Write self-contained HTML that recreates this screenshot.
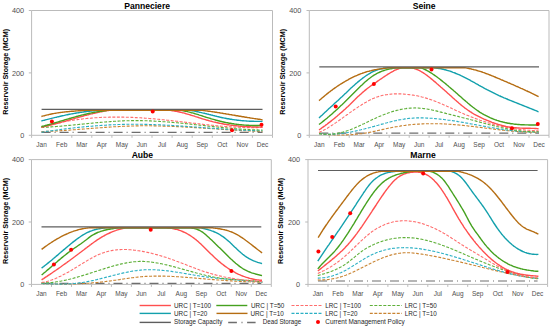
<!DOCTYPE html>
<html><head><meta charset="utf-8"><style>
html,body{margin:0;padding:0;background:#fff;width:550px;height:327px;overflow:hidden;position:relative;font-family:"Liberation Sans",sans-serif;}
</style></head><body>
<svg width="550" height="327" viewBox="0 0 550 327" style="position:absolute;left:0;top:0">
<path d="M31.6,10.5 H272.5 V135.3" fill="none" stroke="#BBBBBB" stroke-width="1"/>
<path d="M31.6,10.5 V135.3 H272.5" fill="none" stroke="#BBBBBB" stroke-width="1"/>
<path d="M28.8,10.5 H31.6" stroke="#BBBBBB" stroke-width="1"/>
<text x="24.2" y="13.3" font-size="7.3" fill="#4F4F4F" text-anchor="end" font-family='"Liberation Sans", sans-serif'>400</text>
<path d="M28.8,72.9 H31.6" stroke="#BBBBBB" stroke-width="1"/>
<text x="24.2" y="75.7" font-size="7.3" fill="#4F4F4F" text-anchor="end" font-family='"Liberation Sans", sans-serif'>200</text>
<path d="M28.8,135.3 H31.6" stroke="#BBBBBB" stroke-width="1"/>
<text x="24.2" y="138.1" font-size="7.3" fill="#4F4F4F" text-anchor="end" font-family='"Liberation Sans", sans-serif'>0</text>
<path d="M31.6,135.3 V137.8" stroke="#BBBBBB" stroke-width="1"/>
<path d="M51.7,135.3 V137.8" stroke="#BBBBBB" stroke-width="1"/>
<path d="M71.8,135.3 V137.8" stroke="#BBBBBB" stroke-width="1"/>
<path d="M91.8,135.3 V137.8" stroke="#BBBBBB" stroke-width="1"/>
<path d="M111.9,135.3 V137.8" stroke="#BBBBBB" stroke-width="1"/>
<path d="M132.0,135.3 V137.8" stroke="#BBBBBB" stroke-width="1"/>
<path d="M152.0,135.3 V137.8" stroke="#BBBBBB" stroke-width="1"/>
<path d="M172.1,135.3 V137.8" stroke="#BBBBBB" stroke-width="1"/>
<path d="M192.2,135.3 V137.8" stroke="#BBBBBB" stroke-width="1"/>
<path d="M212.3,135.3 V137.8" stroke="#BBBBBB" stroke-width="1"/>
<path d="M232.3,135.3 V137.8" stroke="#BBBBBB" stroke-width="1"/>
<path d="M252.4,135.3 V137.8" stroke="#BBBBBB" stroke-width="1"/>
<path d="M272.5,135.3 V137.8" stroke="#BBBBBB" stroke-width="1"/>
<text x="41.6" y="147.0" font-size="6.5" fill="#4F4F4F" text-anchor="middle" font-family='"Liberation Sans", sans-serif'>Jan</text>
<text x="61.7" y="147.0" font-size="6.5" fill="#4F4F4F" text-anchor="middle" font-family='"Liberation Sans", sans-serif'>Feb</text>
<text x="81.8" y="147.0" font-size="6.5" fill="#4F4F4F" text-anchor="middle" font-family='"Liberation Sans", sans-serif'>Mar</text>
<text x="101.9" y="147.0" font-size="6.5" fill="#4F4F4F" text-anchor="middle" font-family='"Liberation Sans", sans-serif'>Apr</text>
<text x="121.9" y="147.0" font-size="6.5" fill="#4F4F4F" text-anchor="middle" font-family='"Liberation Sans", sans-serif'>May</text>
<text x="142.0" y="147.0" font-size="6.5" fill="#4F4F4F" text-anchor="middle" font-family='"Liberation Sans", sans-serif'>Jun</text>
<text x="162.1" y="147.0" font-size="6.5" fill="#4F4F4F" text-anchor="middle" font-family='"Liberation Sans", sans-serif'>Jul</text>
<text x="182.2" y="147.0" font-size="6.5" fill="#4F4F4F" text-anchor="middle" font-family='"Liberation Sans", sans-serif'>Aug</text>
<text x="202.2" y="147.0" font-size="6.5" fill="#4F4F4F" text-anchor="middle" font-family='"Liberation Sans", sans-serif'>Sep</text>
<text x="222.3" y="147.0" font-size="6.5" fill="#4F4F4F" text-anchor="middle" font-family='"Liberation Sans", sans-serif'>Oct</text>
<text x="242.4" y="147.0" font-size="6.5" fill="#4F4F4F" text-anchor="middle" font-family='"Liberation Sans", sans-serif'>Nov</text>
<text x="262.5" y="147.0" font-size="6.5" fill="#4F4F4F" text-anchor="middle" font-family='"Liberation Sans", sans-serif'>Dec</text>
<text x="147.1" y="8.5" font-size="8.6" font-weight="bold" fill="#000" text-anchor="middle" font-family='"Liberation Sans", sans-serif'>Panneciere</text>
<text x="0" y="0" transform="translate(7.5,71.8) rotate(-90)" font-size="6.80" font-weight="bold" fill="#000" text-anchor="middle" font-family='"Liberation Sans", sans-serif' textLength="86.0" lengthAdjust="spacingAndGlyphs">Reservoir Storage (MCM)</text>
<path d="M41.6,132.4 H262.5" stroke="#6E6E6E" stroke-width="1.2" stroke-dasharray="9,4,1,4" fill="none"/>
<path d="M41.4,131.6 L42.4,131.6 L43.4,131.5 L44.4,131.5 L45.4,131.5 L46.4,131.4 L47.4,131.4 L48.4,131.3 L49.4,131.3 L50.4,131.3 L51.4,131.2 L52.4,131.2 L53.4,131.1 L54.4,131.0 L55.4,131.0 L56.4,130.9 L57.4,130.9 L58.4,130.8 L59.4,130.8 L60.4,130.7 L61.4,130.6 L62.4,130.6 L63.4,130.5 L64.4,130.4 L65.4,130.4 L66.4,130.3 L67.4,130.2 L68.4,130.2 L69.4,130.1 L70.4,130.0 L71.4,130.0 L72.4,129.9 L73.4,129.8 L74.4,129.7 L75.4,129.7 L76.4,129.6 L77.4,129.5 L78.4,129.4 L79.4,129.3 L80.4,129.3 L81.4,129.2 L82.4,129.1 L83.4,129.0 L84.4,129.0 L85.4,128.9 L86.4,128.8 L87.4,128.7 L88.4,128.6 L89.4,128.6 L90.4,128.5 L91.4,128.4 L92.4,128.3 L93.4,128.3 L94.4,128.2 L95.4,128.1 L96.4,128.0 L97.4,128.0 L98.4,127.9 L99.4,127.8 L100.4,127.7 L101.4,127.7 L102.4,127.6 L103.4,127.5 L104.4,127.4 L105.4,127.4 L106.4,127.3 L107.4,127.2 L108.4,127.2 L109.4,127.1 L110.4,127.0 L111.4,127.0 L112.4,126.9 L113.4,126.8 L114.4,126.8 L115.4,126.7 L116.4,126.7 L117.4,126.6 L118.4,126.6 L119.4,126.5 L120.4,126.5 L121.4,126.4 L122.4,126.4 L123.4,126.3 L124.4,126.3 L125.4,126.2 L126.4,126.2 L127.4,126.1 L128.4,126.1 L129.4,126.1 L130.4,126.0 L131.4,126.0 L132.4,126.0 L133.4,126.0 L134.4,125.9 L135.4,125.9 L136.4,125.9 L137.4,125.9 L138.4,125.9 L139.4,125.8 L140.4,125.8 L141.4,125.8 L142.4,125.8 L143.4,125.8 L144.4,125.8 L145.4,125.8 L146.4,125.8 L147.4,125.8 L148.4,125.8 L149.4,125.8 L150.4,125.8 L151.4,125.8 L152.4,125.9 L153.4,125.9 L154.4,125.9 L155.4,125.9 L156.4,125.9 L157.4,125.9 L158.4,126.0 L159.4,126.0 L160.4,126.0 L161.4,126.0 L162.4,126.1 L163.4,126.1 L164.4,126.1 L165.4,126.2 L166.4,126.2 L167.4,126.2 L168.4,126.3 L169.4,126.3 L170.4,126.3 L171.4,126.4 L172.4,126.4 L173.4,126.5 L174.4,126.5 L175.4,126.5 L176.4,126.6 L177.4,126.6 L178.4,126.7 L179.4,126.7 L180.4,126.8 L181.4,126.8 L182.4,126.9 L183.4,126.9 L184.4,127.0 L185.4,127.0 L186.4,127.1 L187.4,127.1 L188.4,127.2 L189.4,127.3 L190.4,127.3 L191.4,127.4 L192.4,127.4 L193.4,127.5 L194.4,127.6 L195.4,127.6 L196.4,127.7 L197.4,127.7 L198.4,127.8 L199.4,127.9 L200.4,127.9 L201.4,128.0 L202.4,128.1 L203.4,128.1 L204.4,128.2 L205.4,128.3 L206.4,128.3 L207.4,128.4 L208.4,128.5 L209.4,128.5 L210.4,128.6 L211.4,128.7 L212.4,128.7 L213.4,128.8 L214.4,128.8 L215.4,128.9 L216.4,129.0 L217.4,129.0 L218.4,129.1 L219.4,129.2 L220.4,129.2 L221.4,129.3 L222.4,129.4 L223.4,129.4 L224.4,129.5 L225.4,129.6 L226.4,129.6 L227.4,129.7 L228.4,129.8 L229.4,129.8 L230.4,129.9 L231.4,130.0 L232.4,130.0 L233.4,130.1 L234.4,130.1 L235.4,130.2 L236.4,130.3 L237.4,130.3 L238.4,130.4 L239.4,130.4 L240.4,130.5 L241.4,130.6 L242.4,130.6 L243.4,130.7 L244.4,130.7 L245.4,130.8 L246.4,130.8 L247.4,130.9 L248.4,130.9 L249.4,131.0 L250.4,131.0 L251.4,131.1 L252.4,131.1 L253.4,131.2 L254.4,131.2 L255.4,131.3 L256.4,131.3 L257.4,131.4 L258.4,131.4 L259.4,131.4 L260.4,131.5 L261.4,131.5 L262.4,131.6 L262.5,131.6" stroke="#C98432" stroke-width="1.1" stroke-dasharray="3,1.5" fill="none"/>
<path d="M41.4,132.2 L42.4,132.0 L43.4,131.9 L44.4,131.7 L45.4,131.6 L46.4,131.4 L47.4,131.3 L48.4,131.2 L49.4,131.0 L50.4,130.9 L51.4,130.7 L52.4,130.6 L53.4,130.5 L54.4,130.3 L55.4,130.2 L56.4,130.1 L57.4,129.9 L58.4,129.8 L59.4,129.7 L60.4,129.5 L61.4,129.4 L62.4,129.3 L63.4,129.1 L64.4,129.0 L65.4,128.9 L66.4,128.8 L67.4,128.7 L68.4,128.5 L69.4,128.4 L70.4,128.3 L71.4,128.2 L72.4,128.1 L73.4,128.0 L74.4,127.8 L75.4,127.7 L76.4,127.6 L77.4,127.5 L78.4,127.4 L79.4,127.3 L80.4,127.2 L81.4,127.1 L82.4,127.0 L83.4,126.9 L84.4,126.8 L85.4,126.7 L86.4,126.6 L87.4,126.5 L88.4,126.4 L89.4,126.4 L90.4,126.3 L91.4,126.2 L92.4,126.1 L93.4,126.0 L94.4,125.9 L95.4,125.9 L96.4,125.8 L97.4,125.7 L98.4,125.6 L99.4,125.6 L100.4,125.5 L101.4,125.4 L102.4,125.4 L103.4,125.3 L104.4,125.2 L105.4,125.2 L106.4,125.1 L107.4,125.1 L108.4,125.0 L109.4,124.9 L110.4,124.9 L111.4,124.8 L112.4,124.8 L113.4,124.7 L114.4,124.7 L115.4,124.7 L116.4,124.6 L117.4,124.6 L118.4,124.5 L119.4,124.5 L120.4,124.5 L121.4,124.5 L122.4,124.4 L123.4,124.4 L124.4,124.4 L125.4,124.4 L126.4,124.3 L127.4,124.3 L128.4,124.3 L129.4,124.3 L130.4,124.3 L131.4,124.3 L132.4,124.3 L133.4,124.3 L134.4,124.3 L135.4,124.3 L136.4,124.3 L137.4,124.3 L138.4,124.3 L139.4,124.3 L140.4,124.3 L141.4,124.3 L142.4,124.3 L143.4,124.3 L144.4,124.4 L145.4,124.4 L146.4,124.4 L147.4,124.4 L148.4,124.4 L149.4,124.5 L150.4,124.5 L151.4,124.5 L152.4,124.6 L153.4,124.6 L154.4,124.6 L155.4,124.7 L156.4,124.7 L157.4,124.7 L158.4,124.8 L159.4,124.8 L160.4,124.9 L161.4,124.9 L162.4,125.0 L163.4,125.0 L164.4,125.1 L165.4,125.1 L166.4,125.2 L167.4,125.2 L168.4,125.3 L169.4,125.3 L170.4,125.4 L171.4,125.4 L172.4,125.5 L173.4,125.6 L174.4,125.6 L175.4,125.7 L176.4,125.7 L177.4,125.8 L178.4,125.9 L179.4,125.9 L180.4,126.0 L181.4,126.1 L182.4,126.1 L183.4,126.2 L184.4,126.3 L185.4,126.3 L186.4,126.4 L187.4,126.5 L188.4,126.5 L189.4,126.6 L190.4,126.7 L191.4,126.7 L192.4,126.8 L193.4,126.9 L194.4,127.0 L195.4,127.0 L196.4,127.1 L197.4,127.2 L198.4,127.2 L199.4,127.3 L200.4,127.4 L201.4,127.5 L202.4,127.5 L203.4,127.6 L204.4,127.7 L205.4,127.8 L206.4,127.8 L207.4,127.9 L208.4,128.0 L209.4,128.1 L210.4,128.1 L211.4,128.2 L212.4,128.3 L213.4,128.3 L214.4,128.4 L215.4,128.5 L216.4,128.6 L217.4,128.6 L218.4,128.7 L219.4,128.8 L220.4,128.8 L221.4,128.9 L222.4,129.0 L223.4,129.0 L224.4,129.1 L225.4,129.2 L226.4,129.2 L227.4,129.3 L228.4,129.4 L229.4,129.4 L230.4,129.5 L231.4,129.5 L232.4,129.6 L233.4,129.7 L234.4,129.7 L235.4,129.8 L236.4,129.8 L237.4,129.9 L238.4,129.9 L239.4,130.0 L240.4,130.0 L241.4,130.1 L242.4,130.1 L243.4,130.2 L244.4,130.2 L245.4,130.3 L246.4,130.3 L247.4,130.4 L248.4,130.4 L249.4,130.4 L250.4,130.5 L251.4,130.5 L252.4,130.6 L253.4,130.6 L254.4,130.6 L255.4,130.6 L256.4,130.7 L257.4,130.7 L258.4,130.7 L259.4,130.7 L260.4,130.8 L261.4,130.8 L262.4,130.8 L262.5,130.8" stroke="#2BB0C4" stroke-width="1.1" stroke-dasharray="3,1.5" fill="none"/>
<path d="M41.4,127.5 L42.4,127.4 L43.4,127.4 L44.4,127.3 L45.4,127.3 L46.4,127.2 L47.4,127.1 L48.4,127.1 L49.4,127.0 L50.4,126.9 L51.4,126.9 L52.4,126.8 L53.4,126.7 L54.4,126.7 L55.4,126.6 L56.4,126.5 L57.4,126.4 L58.4,126.3 L59.4,126.3 L60.4,126.2 L61.4,126.1 L62.4,126.0 L63.4,125.9 L64.4,125.8 L65.4,125.7 L66.4,125.6 L67.4,125.5 L68.4,125.4 L69.4,125.4 L70.4,125.3 L71.4,125.2 L72.4,125.1 L73.4,125.0 L74.4,124.9 L75.4,124.8 L76.4,124.7 L77.4,124.6 L78.4,124.5 L79.4,124.4 L80.4,124.3 L81.4,124.2 L82.4,124.1 L83.4,124.0 L84.4,123.9 L85.4,123.8 L86.4,123.7 L87.4,123.6 L88.4,123.5 L89.4,123.4 L90.4,123.3 L91.4,123.2 L92.4,123.1 L93.4,123.0 L94.4,122.9 L95.4,122.8 L96.4,122.7 L97.4,122.6 L98.4,122.6 L99.4,122.5 L100.4,122.4 L101.4,122.3 L102.4,122.2 L103.4,122.1 L104.4,122.0 L105.4,122.0 L106.4,121.9 L107.4,121.8 L108.4,121.7 L109.4,121.7 L110.4,121.6 L111.4,121.5 L112.4,121.4 L113.4,121.4 L114.4,121.3 L115.4,121.3 L116.4,121.2 L117.4,121.1 L118.4,121.1 L119.4,121.0 L120.4,121.0 L121.4,120.9 L122.4,120.9 L123.4,120.9 L124.4,120.8 L125.4,120.8 L126.4,120.7 L127.4,120.7 L128.4,120.7 L129.4,120.7 L130.4,120.6 L131.4,120.6 L132.4,120.6 L133.4,120.6 L134.4,120.6 L135.4,120.6 L136.4,120.6 L137.4,120.6 L138.4,120.6 L139.4,120.6 L140.4,120.6 L141.4,120.6 L142.4,120.7 L143.4,120.7 L144.4,120.7 L145.4,120.7 L146.4,120.8 L147.4,120.8 L148.4,120.8 L149.4,120.9 L150.4,120.9 L151.4,121.0 L152.4,121.0 L153.4,121.1 L154.4,121.1 L155.4,121.2 L156.4,121.2 L157.4,121.3 L158.4,121.3 L159.4,121.4 L160.4,121.5 L161.4,121.5 L162.4,121.6 L163.4,121.7 L164.4,121.7 L165.4,121.8 L166.4,121.9 L167.4,122.0 L168.4,122.0 L169.4,122.1 L170.4,122.2 L171.4,122.3 L172.4,122.4 L173.4,122.5 L174.4,122.6 L175.4,122.7 L176.4,122.7 L177.4,122.8 L178.4,122.9 L179.4,123.0 L180.4,123.1 L181.4,123.2 L182.4,123.3 L183.4,123.4 L184.4,123.5 L185.4,123.6 L186.4,123.7 L187.4,123.8 L188.4,123.9 L189.4,124.0 L190.4,124.1 L191.4,124.2 L192.4,124.4 L193.4,124.5 L194.4,124.6 L195.4,124.7 L196.4,124.8 L197.4,124.9 L198.4,125.0 L199.4,125.1 L200.4,125.2 L201.4,125.3 L202.4,125.4 L203.4,125.5 L204.4,125.6 L205.4,125.8 L206.4,125.9 L207.4,126.0 L208.4,126.1 L209.4,126.2 L210.4,126.3 L211.4,126.4 L212.4,126.5 L213.4,126.6 L214.4,126.7 L215.4,126.8 L216.4,126.9 L217.4,127.0 L218.4,127.1 L219.4,127.2 L220.4,127.3 L221.4,127.4 L222.4,127.5 L223.4,127.6 L224.4,127.7 L225.4,127.8 L226.4,127.9 L227.4,128.0 L228.4,128.1 L229.4,128.2 L230.4,128.3 L231.4,128.4 L232.4,128.4 L233.4,128.5 L234.4,128.6 L235.4,128.7 L236.4,128.8 L237.4,128.8 L238.4,128.9 L239.4,129.0 L240.4,129.1 L241.4,129.1 L242.4,129.2 L243.4,129.3 L244.4,129.3 L245.4,129.4 L246.4,129.5 L247.4,129.5 L248.4,129.6 L249.4,129.6 L250.4,129.7 L251.4,129.7 L252.4,129.8 L253.4,129.8 L254.4,129.8 L255.4,129.9 L256.4,129.9 L257.4,129.9 L258.4,130.0 L259.4,130.0 L260.4,130.0 L261.4,130.0 L262.4,130.1 L262.5,130.1" stroke="#5FB03A" stroke-width="1.1" stroke-dasharray="3,1.5" fill="none"/>
<path d="M41.4,127.4 L42.4,127.1 L43.4,126.8 L44.4,126.5 L45.4,126.3 L46.4,126.0 L47.4,125.7 L48.4,125.4 L49.4,125.2 L50.4,124.9 L51.4,124.6 L52.4,124.4 L53.4,124.1 L54.4,123.9 L55.4,123.7 L56.4,123.4 L57.4,123.2 L58.4,123.0 L59.4,122.8 L60.4,122.6 L61.4,122.3 L62.4,122.1 L63.4,121.9 L64.4,121.7 L65.4,121.5 L66.4,121.4 L67.4,121.2 L68.4,121.0 L69.4,120.8 L70.4,120.7 L71.4,120.5 L72.4,120.3 L73.4,120.2 L74.4,120.0 L75.4,119.9 L76.4,119.7 L77.4,119.6 L78.4,119.5 L79.4,119.3 L80.4,119.2 L81.4,119.1 L82.4,119.0 L83.4,118.8 L84.4,118.7 L85.4,118.6 L86.4,118.5 L87.4,118.4 L88.4,118.3 L89.4,118.2 L90.4,118.2 L91.4,118.1 L92.4,118.0 L93.4,117.9 L94.4,117.8 L95.4,117.8 L96.4,117.7 L97.4,117.6 L98.4,117.6 L99.4,117.5 L100.4,117.5 L101.4,117.4 L102.4,117.4 L103.4,117.3 L104.4,117.3 L105.4,117.3 L106.4,117.2 L107.4,117.2 L108.4,117.2 L109.4,117.1 L110.4,117.1 L111.4,117.1 L112.4,117.1 L113.4,117.1 L114.4,117.1 L115.4,117.1 L116.4,117.1 L117.4,117.1 L118.4,117.1 L119.4,117.1 L120.4,117.1 L121.4,117.1 L122.4,117.1 L123.4,117.1 L124.4,117.2 L125.4,117.2 L126.4,117.2 L127.4,117.2 L128.4,117.3 L129.4,117.3 L130.4,117.3 L131.4,117.4 L132.4,117.4 L133.4,117.5 L134.4,117.5 L135.4,117.6 L136.4,117.6 L137.4,117.7 L138.4,117.7 L139.4,117.8 L140.4,117.8 L141.4,117.9 L142.4,118.0 L143.4,118.0 L144.4,118.1 L145.4,118.2 L146.4,118.2 L147.4,118.3 L148.4,118.4 L149.4,118.5 L150.4,118.6 L151.4,118.6 L152.4,118.7 L153.4,118.8 L154.4,118.9 L155.4,119.0 L156.4,119.1 L157.4,119.2 L158.4,119.3 L159.4,119.4 L160.4,119.5 L161.4,119.6 L162.4,119.7 L163.4,119.8 L164.4,119.9 L165.4,120.0 L166.4,120.1 L167.4,120.2 L168.4,120.3 L169.4,120.4 L170.4,120.5 L171.4,120.6 L172.4,120.7 L173.4,120.9 L174.4,121.0 L175.4,121.1 L176.4,121.2 L177.4,121.3 L178.4,121.4 L179.4,121.5 L180.4,121.7 L181.4,121.8 L182.4,121.9 L183.4,122.0 L184.4,122.1 L185.4,122.3 L186.4,122.4 L187.4,122.5 L188.4,122.6 L189.4,122.7 L190.4,122.9 L191.4,123.0 L192.4,123.1 L193.4,123.2 L194.4,123.3 L195.4,123.4 L196.4,123.6 L197.4,123.7 L198.4,123.8 L199.4,123.9 L200.4,124.0 L201.4,124.1 L202.4,124.2 L203.4,124.4 L204.4,124.5 L205.4,124.6 L206.4,124.7 L207.4,124.8 L208.4,124.9 L209.4,125.0 L210.4,125.1 L211.4,125.2 L212.4,125.3 L213.4,125.4 L214.4,125.5 L215.4,125.6 L216.4,125.7 L217.4,125.8 L218.4,125.9 L219.4,126.0 L220.4,126.1 L221.4,126.2 L222.4,126.2 L223.4,126.3 L224.4,126.4 L225.4,126.5 L226.4,126.6 L227.4,126.6 L228.4,126.7 L229.4,126.8 L230.4,126.9 L231.4,126.9 L232.4,127.0 L233.4,127.0 L234.4,127.1 L235.4,127.2 L236.4,127.2 L237.4,127.3 L238.4,127.3 L239.4,127.3 L240.4,127.4 L241.4,127.4 L242.4,127.5 L243.4,127.5 L244.4,127.5 L245.4,127.5 L246.4,127.6 L247.4,127.6 L248.4,127.6 L249.4,127.6 L250.4,127.6 L251.4,127.6 L252.4,127.6 L253.4,127.6 L254.4,127.6 L255.4,127.6 L256.4,127.6 L257.4,127.6 L258.4,127.5 L259.4,127.5 L260.4,127.5 L261.4,127.4 L262.4,127.4 L262.5,127.4" stroke="#FF6E6E" stroke-width="1.1" stroke-dasharray="3,1.5" fill="none"/>
<path d="M41.4,127.0 L42.4,126.8 L43.4,126.6 L44.4,126.4 L45.4,126.2 L46.4,126.0 L47.4,125.7 L48.4,125.5 L49.4,125.3 L50.4,125.0 L51.4,124.8 L52.4,124.5 L53.4,124.3 L54.4,124.0 L55.4,123.8 L56.4,123.5 L57.4,123.3 L58.4,123.0 L59.4,122.7 L60.4,122.5 L61.4,122.2 L62.4,121.9 L63.4,121.6 L64.4,121.4 L65.4,121.1 L66.4,120.8 L67.4,120.5 L68.4,120.2 L69.4,119.9 L70.4,119.6 L71.4,119.4 L72.4,119.1 L73.4,118.8 L74.4,118.5 L75.4,118.2 L76.4,117.9 L77.4,117.7 L78.4,117.4 L79.4,117.1 L80.4,116.8 L81.4,116.5 L82.4,116.3 L83.4,116.0 L84.4,115.7 L85.4,115.4 L86.4,115.2 L87.4,114.9 L88.4,114.7 L89.4,114.4 L90.4,114.1 L91.4,113.9 L92.4,113.7 L93.4,113.4 L94.4,113.2 L95.4,113.0 L96.4,112.7 L97.4,112.5 L98.4,112.3 L99.4,112.1 L100.4,111.9 L101.4,111.7 L102.4,111.5 L103.4,111.3 L104.4,111.1 L105.4,110.9 L106.4,110.8 L107.4,110.6 L108.4,110.5 L109.4,110.3 L110.4,110.3 L111.4,110.3 L112.4,110.3 L113.4,110.3 L114.4,110.3 L115.4,110.3 L116.4,110.3 L117.4,110.3 L118.4,110.3 L119.4,110.3 L120.4,110.3 L121.4,110.3 L122.4,110.3 L123.4,110.3 L124.4,110.3 L125.4,110.3 L126.4,110.3 L127.4,110.3 L128.4,110.3 L129.4,110.3 L130.4,110.3 L131.4,110.3 L132.4,110.3 L133.4,110.3 L134.4,110.3 L135.4,110.3 L136.4,110.3 L137.4,110.3 L138.4,110.3 L139.4,110.3 L140.4,110.3 L141.4,110.3 L142.4,110.3 L143.4,110.3 L144.4,110.3 L145.4,110.3 L146.4,110.3 L147.4,110.3 L148.4,110.3 L149.4,110.3 L150.4,110.3 L151.4,110.3 L152.4,110.3 L153.4,110.3 L154.4,110.3 L155.4,110.3 L156.4,110.3 L157.4,110.3 L158.4,110.3 L159.4,110.3 L160.4,110.3 L161.4,110.3 L162.4,110.3 L163.4,110.3 L164.4,110.3 L165.4,110.3 L166.4,110.3 L167.4,110.3 L168.4,110.3 L169.4,110.3 L170.4,110.4 L171.4,110.5 L172.4,110.7 L173.4,110.8 L174.4,111.0 L175.4,111.2 L176.4,111.4 L177.4,111.5 L178.4,111.8 L179.4,112.0 L180.4,112.2 L181.4,112.4 L182.4,112.7 L183.4,112.9 L184.4,113.2 L185.4,113.5 L186.4,113.8 L187.4,114.1 L188.4,114.4 L189.4,114.7 L190.4,115.0 L191.4,115.3 L192.4,115.6 L193.4,115.9 L194.4,116.2 L195.4,116.6 L196.4,116.9 L197.4,117.2 L198.4,117.5 L199.4,117.8 L200.4,118.1 L201.4,118.5 L202.4,118.8 L203.4,119.1 L204.4,119.4 L205.4,119.7 L206.4,120.0 L207.4,120.2 L208.4,120.5 L209.4,120.8 L210.4,121.1 L211.4,121.3 L212.4,121.6 L213.4,121.9 L214.4,122.1 L215.4,122.3 L216.4,122.6 L217.4,122.8 L218.4,123.0 L219.4,123.2 L220.4,123.4 L221.4,123.6 L222.4,123.8 L223.4,124.0 L224.4,124.2 L225.4,124.3 L226.4,124.5 L227.4,124.7 L228.4,124.8 L229.4,124.9 L230.4,125.1 L231.4,125.2 L232.4,125.4 L233.4,125.5 L234.4,125.6 L235.4,125.7 L236.4,125.8 L237.4,125.9 L238.4,126.0 L239.4,126.1 L240.4,126.2 L241.4,126.3 L242.4,126.3 L243.4,126.4 L244.4,126.5 L245.4,126.6 L246.4,126.6 L247.4,126.7 L248.4,126.7 L249.4,126.8 L250.4,126.8 L251.4,126.9 L252.4,126.9 L253.4,126.9 L254.4,127.0 L255.4,127.0 L256.4,127.0 L257.4,127.0 L258.4,127.1 L259.4,127.1 L260.4,127.1 L261.4,127.1 L262.4,127.1 L262.5,127.1" stroke="#FF4F4F" stroke-width="1.4" fill="none"/>
<path d="M41.4,126.6 L42.4,126.3 L43.4,126.1 L44.4,125.8 L45.4,125.5 L46.4,125.3 L47.4,125.0 L48.4,124.7 L49.4,124.5 L50.4,124.2 L51.4,123.9 L52.4,123.6 L53.4,123.3 L54.4,123.0 L55.4,122.7 L56.4,122.4 L57.4,122.1 L58.4,121.8 L59.4,121.5 L60.4,121.2 L61.4,120.9 L62.4,120.6 L63.4,120.3 L64.4,120.0 L65.4,119.7 L66.4,119.4 L67.4,119.1 L68.4,118.8 L69.4,118.5 L70.4,118.3 L71.4,118.0 L72.4,117.7 L73.4,117.4 L74.4,117.1 L75.4,116.8 L76.4,116.5 L77.4,116.3 L78.4,116.0 L79.4,115.7 L80.4,115.5 L81.4,115.2 L82.4,114.9 L83.4,114.7 L84.4,114.4 L85.4,114.2 L86.4,114.0 L87.4,113.7 L88.4,113.5 L89.4,113.3 L90.4,113.1 L91.4,112.9 L92.4,112.7 L93.4,112.5 L94.4,112.3 L95.4,112.1 L96.4,111.9 L97.4,111.8 L98.4,111.6 L99.4,111.5 L100.4,111.3 L101.4,111.2 L102.4,111.0 L103.4,110.9 L104.4,110.8 L105.4,110.7 L106.4,110.5 L107.4,110.4 L108.4,110.3 L109.4,110.3 L110.4,110.3 L111.4,110.3 L112.4,110.3 L113.4,110.3 L114.4,110.3 L115.4,110.3 L116.4,110.3 L117.4,110.3 L118.4,110.3 L119.4,110.3 L120.4,110.3 L121.4,110.3 L122.4,110.3 L123.4,110.3 L124.4,110.3 L125.4,110.3 L126.4,110.3 L127.4,110.3 L128.4,110.3 L129.4,110.3 L130.4,110.3 L131.4,110.3 L132.4,110.3 L133.4,110.3 L134.4,110.3 L135.4,110.3 L136.4,110.3 L137.4,110.3 L138.4,110.3 L139.4,110.3 L140.4,110.3 L141.4,110.3 L142.4,110.3 L143.4,110.3 L144.4,110.3 L145.4,110.3 L146.4,110.3 L147.4,110.3 L148.4,110.3 L149.4,110.3 L150.4,110.3 L151.4,110.3 L152.4,110.3 L153.4,110.3 L154.4,110.3 L155.4,110.3 L156.4,110.3 L157.4,110.3 L158.4,110.3 L159.4,110.3 L160.4,110.3 L161.4,110.3 L162.4,110.3 L163.4,110.3 L164.4,110.3 L165.4,110.3 L166.4,110.3 L167.4,110.3 L168.4,110.3 L169.4,110.3 L170.4,110.3 L171.4,110.3 L172.4,110.3 L173.4,110.3 L174.4,110.3 L175.4,110.3 L176.4,110.3 L177.4,110.3 L178.4,110.3 L179.4,110.3 L180.4,110.3 L181.4,110.4 L182.4,110.6 L183.4,110.8 L184.4,111.0 L185.4,111.2 L186.4,111.4 L187.4,111.6 L188.4,111.9 L189.4,112.1 L190.4,112.4 L191.4,112.7 L192.4,112.9 L193.4,113.2 L194.4,113.5 L195.4,113.8 L196.4,114.1 L197.4,114.4 L198.4,114.7 L199.4,115.1 L200.4,115.4 L201.4,115.7 L202.4,116.0 L203.4,116.3 L204.4,116.7 L205.4,117.0 L206.4,117.3 L207.4,117.6 L208.4,117.9 L209.4,118.2 L210.4,118.5 L211.4,118.9 L212.4,119.1 L213.4,119.4 L214.4,119.7 L215.4,120.0 L216.4,120.3 L217.4,120.5 L218.4,120.8 L219.4,121.0 L220.4,121.3 L221.4,121.5 L222.4,121.8 L223.4,122.0 L224.4,122.2 L225.4,122.4 L226.4,122.6 L227.4,122.8 L228.4,123.0 L229.4,123.2 L230.4,123.3 L231.4,123.5 L232.4,123.7 L233.4,123.8 L234.4,124.0 L235.4,124.1 L236.4,124.2 L237.4,124.4 L238.4,124.5 L239.4,124.6 L240.4,124.7 L241.4,124.8 L242.4,124.9 L243.4,125.0 L244.4,125.1 L245.4,125.1 L246.4,125.2 L247.4,125.3 L248.4,125.3 L249.4,125.4 L250.4,125.4 L251.4,125.4 L252.4,125.5 L253.4,125.5 L254.4,125.5 L255.4,125.5 L256.4,125.5 L257.4,125.5 L258.4,125.5 L259.4,125.5 L260.4,125.4 L261.4,125.4 L262.4,125.4 L262.5,125.4" stroke="#45A11F" stroke-width="1.4" fill="none"/>
<path d="M41.4,121.0 L42.4,120.7 L43.4,120.4 L44.4,120.2 L45.4,119.9 L46.4,119.6 L47.4,119.4 L48.4,119.1 L49.4,118.9 L50.4,118.6 L51.4,118.4 L52.4,118.1 L53.4,117.9 L54.4,117.6 L55.4,117.4 L56.4,117.2 L57.4,116.9 L58.4,116.7 L59.4,116.5 L60.4,116.2 L61.4,116.0 L62.4,115.8 L63.4,115.6 L64.4,115.4 L65.4,115.1 L66.4,114.9 L67.4,114.7 L68.4,114.5 L69.4,114.3 L70.4,114.1 L71.4,113.9 L72.4,113.8 L73.4,113.6 L74.4,113.4 L75.4,113.2 L76.4,113.0 L77.4,112.9 L78.4,112.7 L79.4,112.6 L80.4,112.4 L81.4,112.3 L82.4,112.1 L83.4,112.0 L84.4,111.8 L85.4,111.7 L86.4,111.6 L87.4,111.4 L88.4,111.3 L89.4,111.2 L90.4,111.1 L91.4,111.0 L92.4,110.9 L93.4,110.8 L94.4,110.7 L95.4,110.6 L96.4,110.5 L97.4,110.5 L98.4,110.4 L99.4,110.3 L100.4,110.3 L101.4,110.3 L102.4,110.3 L103.4,110.3 L104.4,110.3 L105.4,110.3 L106.4,110.3 L107.4,110.3 L108.4,110.3 L109.4,110.3 L110.4,110.3 L111.4,110.3 L112.4,110.3 L113.4,110.3 L114.4,110.3 L115.4,110.3 L116.4,110.3 L117.4,110.3 L118.4,110.3 L119.4,110.3 L120.4,110.3 L121.4,110.3 L122.4,110.3 L123.4,110.3 L124.4,110.3 L125.4,110.3 L126.4,110.3 L127.4,110.3 L128.4,110.3 L129.4,110.3 L130.4,110.3 L131.4,110.3 L132.4,110.3 L133.4,110.3 L134.4,110.3 L135.4,110.3 L136.4,110.3 L137.4,110.3 L138.4,110.3 L139.4,110.3 L140.4,110.3 L141.4,110.3 L142.4,110.3 L143.4,110.3 L144.4,110.3 L145.4,110.3 L146.4,110.3 L147.4,110.3 L148.4,110.3 L149.4,110.3 L150.4,110.3 L151.4,110.3 L152.4,110.3 L153.4,110.3 L154.4,110.3 L155.4,110.3 L156.4,110.3 L157.4,110.3 L158.4,110.3 L159.4,110.3 L160.4,110.3 L161.4,110.3 L162.4,110.3 L163.4,110.3 L164.4,110.3 L165.4,110.3 L166.4,110.3 L167.4,110.3 L168.4,110.3 L169.4,110.3 L170.4,110.3 L171.4,110.3 L172.4,110.3 L173.4,110.3 L174.4,110.3 L175.4,110.3 L176.4,110.3 L177.4,110.3 L178.4,110.3 L179.4,110.3 L180.4,110.3 L181.4,110.3 L182.4,110.3 L183.4,110.3 L184.4,110.3 L185.4,110.3 L186.4,110.3 L187.4,110.3 L188.4,110.3 L189.4,110.3 L190.4,110.4 L191.4,110.5 L192.4,110.7 L193.4,110.9 L194.4,111.1 L195.4,111.3 L196.4,111.5 L197.4,111.7 L198.4,111.9 L199.4,112.2 L200.4,112.4 L201.4,112.6 L202.4,112.9 L203.4,113.1 L204.4,113.3 L205.4,113.6 L206.4,113.8 L207.4,114.1 L208.4,114.3 L209.4,114.6 L210.4,114.8 L211.4,115.1 L212.4,115.3 L213.4,115.6 L214.4,115.8 L215.4,116.1 L216.4,116.3 L217.4,116.6 L218.4,116.8 L219.4,117.0 L220.4,117.3 L221.4,117.5 L222.4,117.7 L223.4,117.9 L224.4,118.1 L225.4,118.3 L226.4,118.5 L227.4,118.7 L228.4,118.8 L229.4,119.0 L230.4,119.2 L231.4,119.3 L232.4,119.5 L233.4,119.6 L234.4,119.8 L235.4,119.9 L236.4,120.0 L237.4,120.2 L238.4,120.3 L239.4,120.4 L240.4,120.5 L241.4,120.6 L242.4,120.7 L243.4,120.8 L244.4,120.9 L245.4,120.9 L246.4,121.0 L247.4,121.1 L248.4,121.1 L249.4,121.2 L250.4,121.2 L251.4,121.3 L252.4,121.3 L253.4,121.3 L254.4,121.4 L255.4,121.4 L256.4,121.4 L257.4,121.4 L258.4,121.4 L259.4,121.4 L260.4,121.4 L261.4,121.4 L262.4,121.3 L262.5,121.3" stroke="#13A0AC" stroke-width="1.4" fill="none"/>
<path d="M41.4,116.5 L42.4,116.2 L43.4,115.9 L44.4,115.7 L45.4,115.4 L46.4,115.1 L47.4,114.9 L48.4,114.7 L49.4,114.4 L50.4,114.2 L51.4,114.0 L52.4,113.8 L53.4,113.6 L54.4,113.4 L55.4,113.3 L56.4,113.1 L57.4,112.9 L58.4,112.8 L59.4,112.6 L60.4,112.5 L61.4,112.4 L62.4,112.2 L63.4,112.1 L64.4,112.0 L65.4,111.9 L66.4,111.8 L67.4,111.7 L68.4,111.6 L69.4,111.5 L70.4,111.4 L71.4,111.3 L72.4,111.2 L73.4,111.2 L74.4,111.1 L75.4,111.0 L76.4,110.9 L77.4,110.9 L78.4,110.8 L79.4,110.7 L80.4,110.7 L81.4,110.6 L82.4,110.5 L83.4,110.5 L84.4,110.4 L85.4,110.4 L86.4,110.3 L87.4,110.3 L88.4,110.3 L89.4,110.3 L90.4,110.3 L91.4,110.3 L92.4,110.3 L93.4,110.3 L94.4,110.3 L95.4,110.3 L96.4,110.3 L97.4,110.3 L98.4,110.3 L99.4,110.3 L100.4,110.3 L101.4,110.3 L102.4,110.3 L103.4,110.3 L104.4,110.3 L105.4,110.3 L106.4,110.3 L107.4,110.3 L108.4,110.3 L109.4,110.3 L110.4,110.3 L111.4,110.3 L112.4,110.3 L113.4,110.3 L114.4,110.3 L115.4,110.3 L116.4,110.3 L117.4,110.3 L118.4,110.3 L119.4,110.3 L120.4,110.3 L121.4,110.3 L122.4,110.3 L123.4,110.3 L124.4,110.3 L125.4,110.3 L126.4,110.3 L127.4,110.3 L128.4,110.3 L129.4,110.3 L130.4,110.3 L131.4,110.3 L132.4,110.3 L133.4,110.3 L134.4,110.3 L135.4,110.3 L136.4,110.3 L137.4,110.3 L138.4,110.3 L139.4,110.3 L140.4,110.3 L141.4,110.3 L142.4,110.3 L143.4,110.3 L144.4,110.3 L145.4,110.3 L146.4,110.3 L147.4,110.3 L148.4,110.3 L149.4,110.3 L150.4,110.3 L151.4,110.3 L152.4,110.3 L153.4,110.3 L154.4,110.3 L155.4,110.3 L156.4,110.3 L157.4,110.3 L158.4,110.3 L159.4,110.3 L160.4,110.3 L161.4,110.3 L162.4,110.3 L163.4,110.3 L164.4,110.3 L165.4,110.3 L166.4,110.3 L167.4,110.3 L168.4,110.3 L169.4,110.3 L170.4,110.3 L171.4,110.3 L172.4,110.3 L173.4,110.3 L174.4,110.3 L175.4,110.3 L176.4,110.3 L177.4,110.3 L178.4,110.3 L179.4,110.3 L180.4,110.3 L181.4,110.3 L182.4,110.3 L183.4,110.3 L184.4,110.3 L185.4,110.3 L186.4,110.3 L187.4,110.3 L188.4,110.3 L189.4,110.3 L190.4,110.3 L191.4,110.3 L192.4,110.3 L193.4,110.3 L194.4,110.3 L195.4,110.3 L196.4,110.3 L197.4,110.3 L198.4,110.3 L199.4,110.3 L200.4,110.3 L201.4,110.3 L202.4,110.4 L203.4,110.5 L204.4,110.6 L205.4,110.8 L206.4,110.9 L207.4,111.0 L208.4,111.2 L209.4,111.3 L210.4,111.4 L211.4,111.6 L212.4,111.7 L213.4,111.9 L214.4,112.0 L215.4,112.2 L216.4,112.3 L217.4,112.5 L218.4,112.6 L219.4,112.8 L220.4,113.0 L221.4,113.1 L222.4,113.3 L223.4,113.5 L224.4,113.6 L225.4,113.8 L226.4,114.0 L227.4,114.1 L228.4,114.3 L229.4,114.5 L230.4,114.6 L231.4,114.8 L232.4,115.0 L233.4,115.1 L234.4,115.3 L235.4,115.5 L236.4,115.7 L237.4,115.8 L238.4,116.0 L239.4,116.2 L240.4,116.3 L241.4,116.5 L242.4,116.7 L243.4,116.8 L244.4,117.0 L245.4,117.2 L246.4,117.3 L247.4,117.5 L248.4,117.6 L249.4,117.8 L250.4,118.0 L251.4,118.1 L252.4,118.3 L253.4,118.4 L254.4,118.6 L255.4,118.7 L256.4,118.9 L257.4,119.0 L258.4,119.2 L259.4,119.3 L260.4,119.4 L261.4,119.6 L262.4,119.7 L262.5,119.7" stroke="#B56D12" stroke-width="1.4" fill="none"/>
<path d="M41.6,109.4 H262.5" stroke="#5E5E5E" stroke-width="1.2" fill="none"/>
<circle cx="51.9" cy="121.5" r="2.0" fill="#FF0000"/>
<circle cx="152.7" cy="111.4" r="2.0" fill="#FF0000"/>
<circle cx="232.0" cy="130.2" r="2.0" fill="#FF0000"/>
<circle cx="261.5" cy="124.8" r="2.0" fill="#FF0000"/>
<path d="M309.3,10.5 H549.0 V135.3" fill="none" stroke="#BBBBBB" stroke-width="1"/>
<path d="M309.3,10.5 V135.3 H549.0" fill="none" stroke="#BBBBBB" stroke-width="1"/>
<path d="M306.5,10.5 H309.3" stroke="#BBBBBB" stroke-width="1"/>
<text x="301.4" y="13.3" font-size="7.3" fill="#4F4F4F" text-anchor="end" font-family='"Liberation Sans", sans-serif'>400</text>
<path d="M306.5,72.9 H309.3" stroke="#BBBBBB" stroke-width="1"/>
<text x="301.4" y="75.7" font-size="7.3" fill="#4F4F4F" text-anchor="end" font-family='"Liberation Sans", sans-serif'>200</text>
<path d="M306.5,135.3 H309.3" stroke="#BBBBBB" stroke-width="1"/>
<text x="301.4" y="138.1" font-size="7.3" fill="#4F4F4F" text-anchor="end" font-family='"Liberation Sans", sans-serif'>0</text>
<path d="M309.3,135.3 V137.8" stroke="#BBBBBB" stroke-width="1"/>
<path d="M329.3,135.3 V137.8" stroke="#BBBBBB" stroke-width="1"/>
<path d="M349.2,135.3 V137.8" stroke="#BBBBBB" stroke-width="1"/>
<path d="M369.2,135.3 V137.8" stroke="#BBBBBB" stroke-width="1"/>
<path d="M389.2,135.3 V137.8" stroke="#BBBBBB" stroke-width="1"/>
<path d="M409.2,135.3 V137.8" stroke="#BBBBBB" stroke-width="1"/>
<path d="M429.1,135.3 V137.8" stroke="#BBBBBB" stroke-width="1"/>
<path d="M449.1,135.3 V137.8" stroke="#BBBBBB" stroke-width="1"/>
<path d="M469.1,135.3 V137.8" stroke="#BBBBBB" stroke-width="1"/>
<path d="M489.1,135.3 V137.8" stroke="#BBBBBB" stroke-width="1"/>
<path d="M509.0,135.3 V137.8" stroke="#BBBBBB" stroke-width="1"/>
<path d="M529.0,135.3 V137.8" stroke="#BBBBBB" stroke-width="1"/>
<path d="M549.0,135.3 V137.8" stroke="#BBBBBB" stroke-width="1"/>
<text x="319.3" y="147.0" font-size="6.5" fill="#4F4F4F" text-anchor="middle" font-family='"Liberation Sans", sans-serif'>Jan</text>
<text x="339.3" y="147.0" font-size="6.5" fill="#4F4F4F" text-anchor="middle" font-family='"Liberation Sans", sans-serif'>Feb</text>
<text x="359.2" y="147.0" font-size="6.5" fill="#4F4F4F" text-anchor="middle" font-family='"Liberation Sans", sans-serif'>Mar</text>
<text x="379.2" y="147.0" font-size="6.5" fill="#4F4F4F" text-anchor="middle" font-family='"Liberation Sans", sans-serif'>Apr</text>
<text x="399.2" y="147.0" font-size="6.5" fill="#4F4F4F" text-anchor="middle" font-family='"Liberation Sans", sans-serif'>May</text>
<text x="419.2" y="147.0" font-size="6.5" fill="#4F4F4F" text-anchor="middle" font-family='"Liberation Sans", sans-serif'>Jun</text>
<text x="439.1" y="147.0" font-size="6.5" fill="#4F4F4F" text-anchor="middle" font-family='"Liberation Sans", sans-serif'>Jul</text>
<text x="459.1" y="147.0" font-size="6.5" fill="#4F4F4F" text-anchor="middle" font-family='"Liberation Sans", sans-serif'>Aug</text>
<text x="479.1" y="147.0" font-size="6.5" fill="#4F4F4F" text-anchor="middle" font-family='"Liberation Sans", sans-serif'>Sep</text>
<text x="499.1" y="147.0" font-size="6.5" fill="#4F4F4F" text-anchor="middle" font-family='"Liberation Sans", sans-serif'>Oct</text>
<text x="519.0" y="147.0" font-size="6.5" fill="#4F4F4F" text-anchor="middle" font-family='"Liberation Sans", sans-serif'>Nov</text>
<text x="539.0" y="147.0" font-size="6.5" fill="#4F4F4F" text-anchor="middle" font-family='"Liberation Sans", sans-serif'>Dec</text>
<text x="424.2" y="8.5" font-size="8.6" font-weight="bold" fill="#000" text-anchor="middle" font-family='"Liberation Sans", sans-serif'>Seine</text>
<text x="0" y="0" transform="translate(284.8,71.8) rotate(-90)" font-size="6.80" font-weight="bold" fill="#000" text-anchor="middle" font-family='"Liberation Sans", sans-serif' textLength="86.0" lengthAdjust="spacingAndGlyphs">Reservoir Storage (MCM)</text>
<path d="M319.3,133.2 H539.0" stroke="#6E6E6E" stroke-width="1.2" stroke-dasharray="9,4,1,4" fill="none"/>
<path d="M319.0,133.6 L320.0,133.7 L321.0,133.8 L322.0,133.9 L323.0,134.0 L324.0,134.1 L325.0,134.2 L326.0,134.3 L327.0,134.4 L328.0,134.5 L329.0,134.6 L330.0,134.6 L331.0,134.7 L332.0,134.7 L333.0,134.8 L334.0,134.8 L335.0,134.9 L336.0,134.9 L337.0,134.9 L338.0,135.0 L339.0,135.0 L340.0,135.0 L341.0,135.0 L342.0,135.0 L343.0,135.0 L344.0,135.0 L345.0,134.9 L346.0,134.9 L347.0,134.9 L348.0,134.8 L349.0,134.8 L350.0,134.7 L351.0,134.7 L352.0,134.6 L353.0,134.5 L354.0,134.5 L355.0,134.4 L356.0,134.3 L357.0,134.2 L358.0,134.1 L359.0,134.0 L360.0,133.8 L361.0,133.7 L362.0,133.6 L363.0,133.4 L364.0,133.3 L365.0,133.1 L366.0,133.0 L367.0,132.8 L368.0,132.6 L369.0,132.4 L370.0,132.3 L371.0,132.1 L372.0,131.9 L373.0,131.6 L374.0,131.4 L375.0,131.2 L376.0,131.0 L377.0,130.8 L378.0,130.5 L379.0,130.3 L380.0,130.1 L381.0,129.8 L382.0,129.6 L383.0,129.4 L384.0,129.2 L385.0,128.9 L386.0,128.7 L387.0,128.5 L388.0,128.3 L389.0,128.1 L390.0,127.9 L391.0,127.7 L392.0,127.5 L393.0,127.3 L394.0,127.1 L395.0,126.9 L396.0,126.7 L397.0,126.6 L398.0,126.4 L399.0,126.2 L400.0,126.1 L401.0,125.9 L402.0,125.8 L403.0,125.6 L404.0,125.5 L405.0,125.4 L406.0,125.2 L407.0,125.1 L408.0,125.0 L409.0,124.9 L410.0,124.8 L411.0,124.7 L412.0,124.6 L413.0,124.5 L414.0,124.4 L415.0,124.3 L416.0,124.3 L417.0,124.2 L418.0,124.1 L419.0,124.1 L420.0,124.0 L421.0,124.0 L422.0,123.9 L423.0,123.9 L424.0,123.8 L425.0,123.8 L426.0,123.8 L427.0,123.7 L428.0,123.7 L429.0,123.7 L430.0,123.7 L431.0,123.7 L432.0,123.7 L433.0,123.7 L434.0,123.7 L435.0,123.7 L436.0,123.7 L437.0,123.7 L438.0,123.7 L439.0,123.8 L440.0,123.8 L441.0,123.8 L442.0,123.9 L443.0,123.9 L444.0,123.9 L445.0,124.0 L446.0,124.0 L447.0,124.1 L448.0,124.2 L449.0,124.2 L450.0,124.3 L451.0,124.4 L452.0,124.4 L453.0,124.5 L454.0,124.6 L455.0,124.7 L456.0,124.8 L457.0,124.8 L458.0,124.9 L459.0,125.0 L460.0,125.1 L461.0,125.2 L462.0,125.3 L463.0,125.4 L464.0,125.5 L465.0,125.6 L466.0,125.7 L467.0,125.8 L468.0,126.0 L469.0,126.1 L470.0,126.2 L471.0,126.3 L472.0,126.4 L473.0,126.5 L474.0,126.7 L475.0,126.8 L476.0,126.9 L477.0,127.0 L478.0,127.2 L479.0,127.3 L480.0,127.4 L481.0,127.5 L482.0,127.6 L483.0,127.8 L484.0,127.9 L485.0,128.0 L486.0,128.2 L487.0,128.3 L488.0,128.4 L489.0,128.5 L490.0,128.7 L491.0,128.8 L492.0,128.9 L493.0,129.0 L494.0,129.1 L495.0,129.3 L496.0,129.4 L497.0,129.5 L498.0,129.6 L499.0,129.7 L500.0,129.9 L501.0,130.0 L502.0,130.1 L503.0,130.2 L504.0,130.3 L505.0,130.4 L506.0,130.5 L507.0,130.6 L508.0,130.7 L509.0,130.8 L510.0,130.9 L511.0,131.0 L512.0,131.1 L513.0,131.2 L514.0,131.3 L515.0,131.3 L516.0,131.4 L517.0,131.5 L518.0,131.6 L519.0,131.6 L520.0,131.7 L521.0,131.8 L522.0,131.8 L523.0,131.9 L524.0,131.9 L525.0,132.0 L526.0,132.0 L527.0,132.1 L528.0,132.1 L529.0,132.1 L530.0,132.2 L531.0,132.2 L532.0,132.2 L533.0,132.2 L534.0,132.2 L535.0,132.2 L536.0,132.2 L537.0,132.2 L538.0,132.2 L538.6,132.2" stroke="#C98432" stroke-width="1.1" stroke-dasharray="3,1.5" fill="none"/>
<path d="M319.0,133.6 L320.0,133.7 L321.0,133.8 L322.0,133.9 L323.0,134.0 L324.0,134.1 L325.0,134.1 L326.0,134.2 L327.0,134.2 L328.0,134.2 L329.0,134.2 L330.0,134.2 L331.0,134.2 L332.0,134.2 L333.0,134.2 L334.0,134.1 L335.0,134.1 L336.0,134.0 L337.0,133.9 L338.0,133.8 L339.0,133.7 L340.0,133.6 L341.0,133.5 L342.0,133.4 L343.0,133.3 L344.0,133.1 L345.0,133.0 L346.0,132.8 L347.0,132.7 L348.0,132.5 L349.0,132.3 L350.0,132.2 L351.0,132.0 L352.0,131.8 L353.0,131.6 L354.0,131.4 L355.0,131.2 L356.0,130.9 L357.0,130.7 L358.0,130.5 L359.0,130.3 L360.0,130.0 L361.0,129.8 L362.0,129.5 L363.0,129.3 L364.0,129.0 L365.0,128.8 L366.0,128.5 L367.0,128.3 L368.0,128.0 L369.0,127.7 L370.0,127.5 L371.0,127.2 L372.0,126.9 L373.0,126.6 L374.0,126.4 L375.0,126.1 L376.0,125.8 L377.0,125.5 L378.0,125.3 L379.0,125.0 L380.0,124.7 L381.0,124.4 L382.0,124.1 L383.0,123.9 L384.0,123.6 L385.0,123.3 L386.0,123.0 L387.0,122.8 L388.0,122.5 L389.0,122.2 L390.0,122.0 L391.0,121.7 L392.0,121.5 L393.0,121.3 L394.0,121.0 L395.0,120.8 L396.0,120.6 L397.0,120.3 L398.0,120.1 L399.0,119.9 L400.0,119.7 L401.0,119.6 L402.0,119.4 L403.0,119.2 L404.0,119.1 L405.0,118.9 L406.0,118.8 L407.0,118.6 L408.0,118.5 L409.0,118.4 L410.0,118.3 L411.0,118.2 L412.0,118.2 L413.0,118.1 L414.0,118.0 L415.0,118.0 L416.0,118.0 L417.0,117.9 L418.0,117.9 L419.0,117.9 L420.0,117.9 L421.0,117.9 L422.0,117.9 L423.0,117.9 L424.0,117.9 L425.0,118.0 L426.0,118.0 L427.0,118.1 L428.0,118.1 L429.0,118.2 L430.0,118.2 L431.0,118.3 L432.0,118.3 L433.0,118.4 L434.0,118.5 L435.0,118.6 L436.0,118.7 L437.0,118.8 L438.0,118.9 L439.0,119.0 L440.0,119.1 L441.0,119.2 L442.0,119.3 L443.0,119.4 L444.0,119.5 L445.0,119.7 L446.0,119.8 L447.0,119.9 L448.0,120.1 L449.0,120.2 L450.0,120.3 L451.0,120.5 L452.0,120.6 L453.0,120.8 L454.0,120.9 L455.0,121.1 L456.0,121.3 L457.0,121.4 L458.0,121.6 L459.0,121.7 L460.0,121.9 L461.0,122.1 L462.0,122.3 L463.0,122.4 L464.0,122.6 L465.0,122.8 L466.0,123.0 L467.0,123.1 L468.0,123.3 L469.0,123.5 L470.0,123.7 L471.0,123.9 L472.0,124.0 L473.0,124.2 L474.0,124.4 L475.0,124.6 L476.0,124.8 L477.0,125.0 L478.0,125.2 L479.0,125.3 L480.0,125.5 L481.0,125.7 L482.0,125.9 L483.0,126.1 L484.0,126.3 L485.0,126.4 L486.0,126.6 L487.0,126.8 L488.0,127.0 L489.0,127.2 L490.0,127.3 L491.0,127.5 L492.0,127.7 L493.0,127.8 L494.0,128.0 L495.0,128.2 L496.0,128.4 L497.0,128.5 L498.0,128.7 L499.0,128.8 L500.0,129.0 L501.0,129.1 L502.0,129.3 L503.0,129.4 L504.0,129.6 L505.0,129.7 L506.0,129.9 L507.0,130.0 L508.0,130.1 L509.0,130.3 L510.0,130.4 L511.0,130.5 L512.0,130.6 L513.0,130.7 L514.0,130.8 L515.0,130.9 L516.0,131.0 L517.0,131.1 L518.0,131.2 L519.0,131.3 L520.0,131.4 L521.0,131.5 L522.0,131.5 L523.0,131.6 L524.0,131.7 L525.0,131.7 L526.0,131.8 L527.0,131.8 L528.0,131.9 L529.0,131.9 L530.0,131.9 L531.0,131.9 L532.0,132.0 L533.0,132.0 L534.0,132.0 L535.0,132.0 L536.0,132.0 L537.0,131.9 L538.0,131.9 L538.6,131.9" stroke="#2BB0C4" stroke-width="1.1" stroke-dasharray="3,1.5" fill="none"/>
<path d="M319.0,133.6 L320.0,133.7 L321.0,133.9 L322.0,134.0 L323.0,134.1 L324.0,134.2 L325.0,134.3 L326.0,134.3 L327.0,134.3 L328.0,134.3 L329.0,134.3 L330.0,134.3 L331.0,134.2 L332.0,134.1 L333.0,134.0 L334.0,133.9 L335.0,133.8 L336.0,133.6 L337.0,133.4 L338.0,133.2 L339.0,133.0 L340.0,132.8 L341.0,132.6 L342.0,132.3 L343.0,132.1 L344.0,131.8 L345.0,131.5 L346.0,131.2 L347.0,130.8 L348.0,130.5 L349.0,130.1 L350.0,129.8 L351.0,129.4 L352.0,129.0 L353.0,128.6 L354.0,128.2 L355.0,127.8 L356.0,127.3 L357.0,126.9 L358.0,126.5 L359.0,126.0 L360.0,125.5 L361.0,125.1 L362.0,124.6 L363.0,124.1 L364.0,123.7 L365.0,123.2 L366.0,122.7 L367.0,122.2 L368.0,121.7 L369.0,121.2 L370.0,120.8 L371.0,120.3 L372.0,119.8 L373.0,119.3 L374.0,118.9 L375.0,118.4 L376.0,117.9 L377.0,117.5 L378.0,117.0 L379.0,116.6 L380.0,116.2 L381.0,115.8 L382.0,115.3 L383.0,114.9 L384.0,114.6 L385.0,114.2 L386.0,113.8 L387.0,113.4 L388.0,113.1 L389.0,112.7 L390.0,112.4 L391.0,112.1 L392.0,111.7 L393.0,111.4 L394.0,111.1 L395.0,110.9 L396.0,110.6 L397.0,110.3 L398.0,110.1 L399.0,109.8 L400.0,109.6 L401.0,109.4 L402.0,109.2 L403.0,109.0 L404.0,108.9 L405.0,108.7 L406.0,108.6 L407.0,108.4 L408.0,108.3 L409.0,108.2 L410.0,108.1 L411.0,108.1 L412.0,108.0 L413.0,108.0 L414.0,108.0 L415.0,107.9 L416.0,108.0 L417.0,108.0 L418.0,108.0 L419.0,108.1 L420.0,108.2 L421.0,108.2 L422.0,108.3 L423.0,108.5 L424.0,108.6 L425.0,108.7 L426.0,108.9 L427.0,109.0 L428.0,109.2 L429.0,109.4 L430.0,109.6 L431.0,109.8 L432.0,110.0 L433.0,110.2 L434.0,110.4 L435.0,110.7 L436.0,110.9 L437.0,111.1 L438.0,111.4 L439.0,111.6 L440.0,111.9 L441.0,112.1 L442.0,112.4 L443.0,112.6 L444.0,112.9 L445.0,113.1 L446.0,113.4 L447.0,113.6 L448.0,113.9 L449.0,114.2 L450.0,114.4 L451.0,114.7 L452.0,114.9 L453.0,115.2 L454.0,115.4 L455.0,115.7 L456.0,115.9 L457.0,116.2 L458.0,116.4 L459.0,116.7 L460.0,117.0 L461.0,117.2 L462.0,117.5 L463.0,117.7 L464.0,118.0 L465.0,118.2 L466.0,118.5 L467.0,118.7 L468.0,119.0 L469.0,119.2 L470.0,119.5 L471.0,119.8 L472.0,120.0 L473.0,120.3 L474.0,120.6 L475.0,120.8 L476.0,121.1 L477.0,121.4 L478.0,121.6 L479.0,121.9 L480.0,122.2 L481.0,122.4 L482.0,122.7 L483.0,123.0 L484.0,123.2 L485.0,123.5 L486.0,123.8 L487.0,124.0 L488.0,124.3 L489.0,124.6 L490.0,124.8 L491.0,125.1 L492.0,125.3 L493.0,125.6 L494.0,125.8 L495.0,126.1 L496.0,126.3 L497.0,126.6 L498.0,126.8 L499.0,127.0 L500.0,127.2 L501.0,127.5 L502.0,127.7 L503.0,127.9 L504.0,128.1 L505.0,128.3 L506.0,128.5 L507.0,128.7 L508.0,128.9 L509.0,129.1 L510.0,129.3 L511.0,129.5 L512.0,129.7 L513.0,129.8 L514.0,130.0 L515.0,130.2 L516.0,130.3 L517.0,130.4 L518.0,130.6 L519.0,130.7 L520.0,130.8 L521.0,130.9 L522.0,131.1 L523.0,131.2 L524.0,131.2 L525.0,131.3 L526.0,131.4 L527.0,131.5 L528.0,131.5 L529.0,131.6 L530.0,131.6 L531.0,131.7 L532.0,131.7 L533.0,131.7 L534.0,131.7 L535.0,131.7 L536.0,131.7 L537.0,131.7 L538.0,131.6 L538.6,131.6" stroke="#5FB03A" stroke-width="1.1" stroke-dasharray="3,1.5" fill="none"/>
<path d="M319.0,132.6 L320.0,132.1 L321.0,131.6 L322.0,131.1 L323.0,130.6 L324.0,130.1 L325.0,129.5 L326.0,128.9 L327.0,128.4 L328.0,127.8 L329.0,127.1 L330.0,126.5 L331.0,125.9 L332.0,125.2 L333.0,124.6 L334.0,123.9 L335.0,123.2 L336.0,122.6 L337.0,121.9 L338.0,121.2 L339.0,120.5 L340.0,119.8 L341.0,119.1 L342.0,118.4 L343.0,117.6 L344.0,116.9 L345.0,116.2 L346.0,115.5 L347.0,114.8 L348.0,114.1 L349.0,113.3 L350.0,112.6 L351.0,111.9 L352.0,111.2 L353.0,110.5 L354.0,109.8 L355.0,109.1 L356.0,108.4 L357.0,107.8 L358.0,107.1 L359.0,106.4 L360.0,105.8 L361.0,105.2 L362.0,104.5 L363.0,103.9 L364.0,103.3 L365.0,102.7 L366.0,102.2 L367.0,101.6 L368.0,101.1 L369.0,100.5 L370.0,100.0 L371.0,99.5 L372.0,99.1 L373.0,98.6 L374.0,98.2 L375.0,97.8 L376.0,97.4 L377.0,97.0 L378.0,96.7 L379.0,96.4 L380.0,96.1 L381.0,95.8 L382.0,95.5 L383.0,95.3 L384.0,95.1 L385.0,94.9 L386.0,94.7 L387.0,94.6 L388.0,94.4 L389.0,94.3 L390.0,94.2 L391.0,94.1 L392.0,94.0 L393.0,94.0 L394.0,93.9 L395.0,93.9 L396.0,93.9 L397.0,93.9 L398.0,93.9 L399.0,93.9 L400.0,93.9 L401.0,93.9 L402.0,94.0 L403.0,94.0 L404.0,94.1 L405.0,94.2 L406.0,94.3 L407.0,94.4 L408.0,94.5 L409.0,94.6 L410.0,94.7 L411.0,94.8 L412.0,95.0 L413.0,95.1 L414.0,95.3 L415.0,95.5 L416.0,95.6 L417.0,95.8 L418.0,96.0 L419.0,96.3 L420.0,96.5 L421.0,96.7 L422.0,97.0 L423.0,97.2 L424.0,97.5 L425.0,97.8 L426.0,98.1 L427.0,98.4 L428.0,98.7 L429.0,99.0 L430.0,99.4 L431.0,99.7 L432.0,100.1 L433.0,100.4 L434.0,100.8 L435.0,101.2 L436.0,101.6 L437.0,102.0 L438.0,102.4 L439.0,102.8 L440.0,103.2 L441.0,103.7 L442.0,104.1 L443.0,104.5 L444.0,104.9 L445.0,105.4 L446.0,105.8 L447.0,106.3 L448.0,106.7 L449.0,107.2 L450.0,107.6 L451.0,108.1 L452.0,108.6 L453.0,109.0 L454.0,109.5 L455.0,109.9 L456.0,110.4 L457.0,110.8 L458.0,111.3 L459.0,111.7 L460.0,112.2 L461.0,112.6 L462.0,113.1 L463.0,113.5 L464.0,113.9 L465.0,114.4 L466.0,114.8 L467.0,115.2 L468.0,115.6 L469.0,116.0 L470.0,116.4 L471.0,116.8 L472.0,117.2 L473.0,117.6 L474.0,118.0 L475.0,118.4 L476.0,118.7 L477.0,119.1 L478.0,119.5 L479.0,119.8 L480.0,120.2 L481.0,120.5 L482.0,120.8 L483.0,121.2 L484.0,121.5 L485.0,121.8 L486.0,122.1 L487.0,122.4 L488.0,122.7 L489.0,123.0 L490.0,123.3 L491.0,123.6 L492.0,123.9 L493.0,124.2 L494.0,124.5 L495.0,124.7 L496.0,125.0 L497.0,125.2 L498.0,125.5 L499.0,125.7 L500.0,126.0 L501.0,126.2 L502.0,126.4 L503.0,126.6 L504.0,126.8 L505.0,127.0 L506.0,127.2 L507.0,127.4 L508.0,127.6 L509.0,127.8 L510.0,128.0 L511.0,128.2 L512.0,128.3 L513.0,128.5 L514.0,128.7 L515.0,128.8 L516.0,129.0 L517.0,129.1 L518.0,129.2 L519.0,129.4 L520.0,129.5 L521.0,129.6 L522.0,129.7 L523.0,129.8 L524.0,129.9 L525.0,130.0 L526.0,130.1 L527.0,130.2 L528.0,130.2 L529.0,130.3 L530.0,130.4 L531.0,130.4 L532.0,130.5 L533.0,130.5 L534.0,130.6 L535.0,130.6 L536.0,130.6 L537.0,130.7 L538.0,130.7 L538.6,130.7" stroke="#FF6E6E" stroke-width="1.1" stroke-dasharray="3,1.5" fill="none"/>
<path d="M319.0,130.0 L320.0,129.3 L321.0,128.6 L322.0,127.8 L323.0,127.1 L324.0,126.4 L325.0,125.7 L326.0,124.9 L327.0,124.2 L328.0,123.4 L329.0,122.6 L330.0,121.9 L331.0,121.1 L332.0,120.3 L333.0,119.5 L334.0,118.7 L335.0,117.9 L336.0,117.0 L337.0,116.2 L338.0,115.3 L339.0,114.5 L340.0,113.6 L341.0,112.7 L342.0,111.9 L343.0,111.0 L344.0,110.1 L345.0,109.2 L346.0,108.2 L347.0,107.3 L348.0,106.4 L349.0,105.4 L350.0,104.5 L351.0,103.5 L352.0,102.5 L353.0,101.5 L354.0,100.5 L355.0,99.6 L356.0,98.6 L357.0,97.6 L358.0,96.6 L359.0,95.7 L360.0,94.8 L361.0,93.9 L362.0,93.0 L363.0,92.1 L364.0,91.3 L365.0,90.4 L366.0,89.6 L367.0,88.8 L368.0,88.0 L369.0,87.3 L370.0,86.5 L371.0,85.8 L372.0,85.1 L373.0,84.4 L374.0,83.6 L375.0,82.9 L376.0,82.3 L377.0,81.6 L378.0,80.9 L379.0,80.2 L380.0,79.5 L381.0,78.9 L382.0,78.2 L383.0,77.5 L384.0,76.8 L385.0,76.2 L386.0,75.5 L387.0,74.9 L388.0,74.2 L389.0,73.6 L390.0,73.0 L391.0,72.4 L392.0,71.8 L393.0,71.3 L394.0,70.7 L395.0,70.2 L396.0,69.8 L397.0,69.4 L398.0,69.0 L399.0,68.6 L400.0,68.3 L401.0,68.1 L402.0,67.8 L403.0,67.8 L404.0,67.8 L405.0,67.8 L406.0,67.8 L407.0,67.8 L408.0,67.8 L409.0,67.8 L410.0,67.8 L411.0,67.8 L412.0,67.9 L413.0,68.2 L414.0,68.4 L415.0,68.8 L416.0,69.1 L417.0,69.5 L418.0,69.9 L419.0,70.4 L420.0,70.9 L421.0,71.5 L422.0,72.1 L423.0,72.7 L424.0,73.3 L425.0,74.0 L426.0,74.7 L427.0,75.4 L428.0,76.2 L429.0,77.0 L430.0,77.8 L431.0,78.6 L432.0,79.4 L433.0,80.2 L434.0,81.1 L435.0,81.9 L436.0,82.8 L437.0,83.7 L438.0,84.5 L439.0,85.4 L440.0,86.3 L441.0,87.2 L442.0,88.0 L443.0,88.9 L444.0,89.8 L445.0,90.7 L446.0,91.6 L447.0,92.5 L448.0,93.4 L449.0,94.3 L450.0,95.2 L451.0,96.1 L452.0,97.0 L453.0,97.9 L454.0,98.8 L455.0,99.7 L456.0,100.5 L457.0,101.4 L458.0,102.3 L459.0,103.2 L460.0,104.0 L461.0,104.9 L462.0,105.7 L463.0,106.5 L464.0,107.3 L465.0,108.1 L466.0,108.8 L467.0,109.5 L468.0,110.2 L469.0,110.9 L470.0,111.6 L471.0,112.2 L472.0,112.9 L473.0,113.5 L474.0,114.1 L475.0,114.6 L476.0,115.2 L477.0,115.7 L478.0,116.2 L479.0,116.7 L480.0,117.2 L481.0,117.7 L482.0,118.2 L483.0,118.6 L484.0,119.1 L485.0,119.5 L486.0,119.9 L487.0,120.3 L488.0,120.7 L489.0,121.1 L490.0,121.5 L491.0,121.9 L492.0,122.3 L493.0,122.6 L494.0,123.0 L495.0,123.3 L496.0,123.7 L497.0,124.0 L498.0,124.3 L499.0,124.6 L500.0,124.9 L501.0,125.2 L502.0,125.5 L503.0,125.8 L504.0,126.0 L505.0,126.2 L506.0,126.5 L507.0,126.7 L508.0,126.9 L509.0,127.0 L510.0,127.2 L511.0,127.3 L512.0,127.4 L513.0,127.6 L514.0,127.7 L515.0,127.8 L516.0,127.8 L517.0,127.9 L518.0,128.0 L519.0,128.0 L520.0,128.1 L521.0,128.1 L522.0,128.1 L523.0,128.2 L524.0,128.2 L525.0,128.2 L526.0,128.3 L527.0,128.3 L528.0,128.3 L529.0,128.3 L530.0,128.3 L531.0,128.4 L532.0,128.4 L533.0,128.4 L534.0,128.4 L535.0,128.5 L536.0,128.5 L537.0,128.6 L538.0,128.7 L538.6,128.7" stroke="#FF4F4F" stroke-width="1.4" fill="none"/>
<path d="M319.0,124.5 L320.0,123.7 L321.0,123.0 L322.0,122.2 L323.0,121.4 L324.0,120.6 L325.0,119.8 L326.0,119.0 L327.0,118.2 L328.0,117.3 L329.0,116.5 L330.0,115.6 L331.0,114.8 L332.0,113.9 L333.0,113.0 L334.0,112.1 L335.0,111.2 L336.0,110.3 L337.0,109.4 L338.0,108.5 L339.0,107.5 L340.0,106.6 L341.0,105.6 L342.0,104.7 L343.0,103.7 L344.0,102.8 L345.0,101.8 L346.0,100.8 L347.0,99.8 L348.0,98.8 L349.0,97.8 L350.0,96.8 L351.0,95.8 L352.0,94.8 L353.0,93.8 L354.0,92.8 L355.0,91.8 L356.0,90.8 L357.0,89.8 L358.0,88.8 L359.0,87.8 L360.0,86.8 L361.0,85.8 L362.0,84.9 L363.0,83.9 L364.0,83.0 L365.0,82.1 L366.0,81.2 L367.0,80.4 L368.0,79.5 L369.0,78.7 L370.0,78.0 L371.0,77.2 L372.0,76.5 L373.0,75.8 L374.0,75.2 L375.0,74.6 L376.0,74.0 L377.0,73.5 L378.0,72.9 L379.0,72.5 L380.0,72.0 L381.0,71.6 L382.0,71.2 L383.0,70.8 L384.0,70.5 L385.0,70.2 L386.0,69.9 L387.0,69.6 L388.0,69.4 L389.0,69.1 L390.0,68.9 L391.0,68.7 L392.0,68.5 L393.0,68.3 L394.0,68.1 L395.0,68.0 L396.0,67.8 L397.0,67.8 L398.0,67.8 L399.0,67.8 L400.0,67.8 L401.0,67.8 L402.0,67.8 L403.0,67.8 L404.0,67.8 L405.0,67.8 L406.0,67.8 L407.0,67.8 L408.0,67.8 L409.0,67.8 L410.0,67.8 L411.0,67.8 L412.0,67.8 L413.0,67.8 L414.0,67.8 L415.0,67.8 L416.0,67.8 L417.0,67.8 L418.0,67.8 L419.0,67.8 L420.0,67.8 L421.0,67.9 L422.0,68.2 L423.0,68.6 L424.0,69.1 L425.0,69.5 L426.0,70.0 L427.0,70.5 L428.0,71.1 L429.0,71.7 L430.0,72.3 L431.0,72.9 L432.0,73.5 L433.0,74.2 L434.0,74.9 L435.0,75.6 L436.0,76.3 L437.0,77.0 L438.0,77.8 L439.0,78.5 L440.0,79.3 L441.0,80.1 L442.0,80.9 L443.0,81.7 L444.0,82.5 L445.0,83.3 L446.0,84.1 L447.0,85.0 L448.0,85.8 L449.0,86.7 L450.0,87.5 L451.0,88.4 L452.0,89.2 L453.0,90.1 L454.0,91.0 L455.0,91.8 L456.0,92.7 L457.0,93.6 L458.0,94.5 L459.0,95.4 L460.0,96.2 L461.0,97.1 L462.0,98.0 L463.0,98.9 L464.0,99.8 L465.0,100.6 L466.0,101.5 L467.0,102.3 L468.0,103.2 L469.0,104.0 L470.0,104.9 L471.0,105.7 L472.0,106.5 L473.0,107.3 L474.0,108.0 L475.0,108.8 L476.0,109.5 L477.0,110.2 L478.0,110.9 L479.0,111.6 L480.0,112.3 L481.0,112.9 L482.0,113.5 L483.0,114.1 L484.0,114.7 L485.0,115.2 L486.0,115.7 L487.0,116.2 L488.0,116.7 L489.0,117.2 L490.0,117.7 L491.0,118.1 L492.0,118.5 L493.0,118.9 L494.0,119.3 L495.0,119.7 L496.0,120.0 L497.0,120.4 L498.0,120.7 L499.0,121.0 L500.0,121.3 L501.0,121.6 L502.0,121.8 L503.0,122.1 L504.0,122.3 L505.0,122.6 L506.0,122.8 L507.0,123.0 L508.0,123.2 L509.0,123.3 L510.0,123.5 L511.0,123.7 L512.0,123.8 L513.0,123.9 L514.0,124.1 L515.0,124.2 L516.0,124.3 L517.0,124.4 L518.0,124.5 L519.0,124.5 L520.0,124.6 L521.0,124.7 L522.0,124.7 L523.0,124.8 L524.0,124.8 L525.0,124.9 L526.0,124.9 L527.0,124.9 L528.0,124.9 L529.0,125.0 L530.0,125.0 L531.0,125.0 L532.0,125.0 L533.0,125.0 L534.0,125.0 L535.0,125.0 L536.0,125.0 L537.0,125.0 L538.0,125.0 L538.6,125.0" stroke="#45A11F" stroke-width="1.4" fill="none"/>
<path d="M319.0,118.1 L320.0,117.1 L321.0,116.1 L322.0,115.2 L323.0,114.2 L324.0,113.3 L325.0,112.3 L326.0,111.4 L327.0,110.5 L328.0,109.6 L329.0,108.6 L330.0,107.7 L331.0,106.8 L332.0,105.9 L333.0,105.0 L334.0,104.0 L335.0,103.1 L336.0,102.2 L337.0,101.3 L338.0,100.4 L339.0,99.4 L340.0,98.5 L341.0,97.6 L342.0,96.7 L343.0,95.7 L344.0,94.8 L345.0,93.8 L346.0,92.9 L347.0,91.9 L348.0,91.0 L349.0,90.0 L350.0,89.1 L351.0,88.1 L352.0,87.2 L353.0,86.3 L354.0,85.4 L355.0,84.5 L356.0,83.6 L357.0,82.8 L358.0,81.9 L359.0,81.1 L360.0,80.3 L361.0,79.5 L362.0,78.7 L363.0,77.9 L364.0,77.2 L365.0,76.5 L366.0,75.8 L367.0,75.1 L368.0,74.5 L369.0,73.9 L370.0,73.3 L371.0,72.7 L372.0,72.2 L373.0,71.7 L374.0,71.2 L375.0,70.8 L376.0,70.4 L377.0,70.1 L378.0,69.7 L379.0,69.4 L380.0,69.1 L381.0,68.9 L382.0,68.7 L383.0,68.5 L384.0,68.3 L385.0,68.1 L386.0,68.0 L387.0,67.9 L388.0,67.8 L389.0,67.8 L390.0,67.8 L391.0,67.8 L392.0,67.8 L393.0,67.8 L394.0,67.8 L395.0,67.8 L396.0,67.8 L397.0,67.8 L398.0,67.8 L399.0,67.8 L400.0,67.8 L401.0,67.8 L402.0,67.8 L403.0,67.8 L404.0,67.8 L405.0,67.8 L406.0,67.8 L407.0,67.8 L408.0,67.8 L409.0,67.8 L410.0,67.8 L411.0,67.8 L412.0,67.8 L413.0,67.8 L414.0,67.8 L415.0,67.8 L416.0,67.8 L417.0,67.8 L418.0,67.8 L419.0,67.8 L420.0,67.8 L421.0,67.8 L422.0,67.8 L423.0,67.8 L424.0,67.8 L425.0,67.8 L426.0,67.8 L427.0,67.8 L428.0,67.8 L429.0,67.8 L430.0,67.8 L431.0,67.8 L432.0,67.8 L433.0,67.8 L434.0,67.9 L435.0,68.0 L436.0,68.1 L437.0,68.2 L438.0,68.3 L439.0,68.5 L440.0,68.6 L441.0,68.8 L442.0,69.0 L443.0,69.2 L444.0,69.5 L445.0,69.7 L446.0,70.0 L447.0,70.3 L448.0,70.6 L449.0,70.9 L450.0,71.2 L451.0,71.5 L452.0,71.9 L453.0,72.3 L454.0,72.6 L455.0,73.0 L456.0,73.5 L457.0,73.9 L458.0,74.3 L459.0,74.7 L460.0,75.2 L461.0,75.7 L462.0,76.1 L463.0,76.6 L464.0,77.1 L465.0,77.6 L466.0,78.1 L467.0,78.6 L468.0,79.2 L469.0,79.7 L470.0,80.2 L471.0,80.8 L472.0,81.3 L473.0,81.9 L474.0,82.4 L475.0,83.0 L476.0,83.6 L477.0,84.1 L478.0,84.7 L479.0,85.3 L480.0,85.8 L481.0,86.4 L482.0,86.9 L483.0,87.5 L484.0,88.0 L485.0,88.6 L486.0,89.1 L487.0,89.7 L488.0,90.2 L489.0,90.7 L490.0,91.2 L491.0,91.7 L492.0,92.2 L493.0,92.7 L494.0,93.2 L495.0,93.7 L496.0,94.2 L497.0,94.6 L498.0,95.1 L499.0,95.6 L500.0,96.0 L501.0,96.5 L502.0,96.9 L503.0,97.3 L504.0,97.8 L505.0,98.2 L506.0,98.6 L507.0,99.0 L508.0,99.5 L509.0,99.9 L510.0,100.3 L511.0,100.7 L512.0,101.1 L513.0,101.5 L514.0,101.9 L515.0,102.3 L516.0,102.7 L517.0,103.1 L518.0,103.5 L519.0,103.9 L520.0,104.3 L521.0,104.7 L522.0,105.1 L523.0,105.5 L524.0,105.9 L525.0,106.3 L526.0,106.7 L527.0,107.1 L528.0,107.5 L529.0,107.9 L530.0,108.3 L531.0,108.7 L532.0,109.1 L533.0,109.5 L534.0,109.9 L535.0,110.3 L536.0,110.7 L537.0,111.1 L538.0,111.6 L538.6,111.8" stroke="#13A0AC" stroke-width="1.4" fill="none"/>
<path d="M319.0,100.6 L320.0,99.8 L321.0,98.9 L322.0,98.0 L323.0,97.2 L324.0,96.4 L325.0,95.5 L326.0,94.7 L327.0,93.9 L328.0,93.1 L329.0,92.3 L330.0,91.6 L331.0,90.8 L332.0,90.1 L333.0,89.3 L334.0,88.6 L335.0,87.9 L336.0,87.2 L337.0,86.5 L338.0,85.8 L339.0,85.2 L340.0,84.5 L341.0,83.9 L342.0,83.3 L343.0,82.7 L344.0,82.1 L345.0,81.5 L346.0,80.9 L347.0,80.3 L348.0,79.8 L349.0,79.2 L350.0,78.7 L351.0,78.2 L352.0,77.7 L353.0,77.2 L354.0,76.7 L355.0,76.2 L356.0,75.8 L357.0,75.4 L358.0,74.9 L359.0,74.5 L360.0,74.1 L361.0,73.7 L362.0,73.4 L363.0,73.0 L364.0,72.7 L365.0,72.3 L366.0,72.0 L367.0,71.7 L368.0,71.4 L369.0,71.2 L370.0,70.9 L371.0,70.7 L372.0,70.4 L373.0,70.2 L374.0,70.0 L375.0,69.8 L376.0,69.6 L377.0,69.4 L378.0,69.2 L379.0,69.1 L380.0,68.9 L381.0,68.8 L382.0,68.6 L383.0,68.5 L384.0,68.3 L385.0,68.2 L386.0,68.1 L387.0,68.0 L388.0,67.8 L389.0,67.8 L390.0,67.8 L391.0,67.8 L392.0,67.8 L393.0,67.8 L394.0,67.8 L395.0,67.8 L396.0,67.8 L397.0,67.8 L398.0,67.8 L399.0,67.8 L400.0,67.8 L401.0,67.8 L402.0,67.8 L403.0,67.8 L404.0,67.8 L405.0,67.8 L406.0,67.8 L407.0,67.8 L408.0,67.8 L409.0,67.8 L410.0,67.8 L411.0,67.8 L412.0,67.8 L413.0,67.8 L414.0,67.8 L415.0,67.8 L416.0,67.8 L417.0,67.8 L418.0,67.8 L419.0,67.8 L420.0,67.8 L421.0,67.8 L422.0,67.8 L423.0,67.8 L424.0,67.8 L425.0,67.8 L426.0,67.8 L427.0,67.8 L428.0,67.8 L429.0,67.8 L430.0,67.8 L431.0,67.8 L432.0,67.8 L433.0,67.8 L434.0,67.8 L435.0,67.8 L436.0,67.8 L437.0,67.8 L438.0,67.8 L439.0,67.8 L440.0,67.8 L441.0,67.8 L442.0,67.8 L443.0,67.8 L444.0,67.8 L445.0,67.8 L446.0,67.8 L447.0,67.8 L448.0,67.8 L449.0,67.8 L450.0,67.8 L451.0,67.8 L452.0,67.8 L453.0,67.8 L454.0,67.8 L455.0,67.8 L456.0,67.8 L457.0,67.8 L458.0,67.8 L459.0,67.8 L460.0,67.8 L461.0,67.8 L462.0,67.8 L463.0,67.8 L464.0,67.8 L465.0,67.8 L466.0,67.9 L467.0,68.1 L468.0,68.3 L469.0,68.5 L470.0,68.7 L471.0,68.9 L472.0,69.2 L473.0,69.4 L474.0,69.7 L475.0,69.9 L476.0,70.2 L477.0,70.5 L478.0,70.8 L479.0,71.1 L480.0,71.4 L481.0,71.7 L482.0,72.0 L483.0,72.4 L484.0,72.7 L485.0,73.1 L486.0,73.5 L487.0,73.8 L488.0,74.2 L489.0,74.6 L490.0,75.0 L491.0,75.4 L492.0,75.8 L493.0,76.2 L494.0,76.6 L495.0,77.0 L496.0,77.5 L497.0,77.9 L498.0,78.3 L499.0,78.7 L500.0,79.1 L501.0,79.6 L502.0,80.0 L503.0,80.4 L504.0,80.9 L505.0,81.3 L506.0,81.7 L507.0,82.1 L508.0,82.6 L509.0,83.0 L510.0,83.4 L511.0,83.9 L512.0,84.3 L513.0,84.7 L514.0,85.2 L515.0,85.6 L516.0,86.1 L517.0,86.5 L518.0,86.9 L519.0,87.4 L520.0,87.8 L521.0,88.3 L522.0,88.7 L523.0,89.2 L524.0,89.6 L525.0,90.1 L526.0,90.6 L527.0,91.0 L528.0,91.5 L529.0,91.9 L530.0,92.4 L531.0,92.9 L532.0,93.4 L533.0,93.8 L534.0,94.3 L535.0,94.8 L536.0,95.3 L537.0,95.8 L538.0,96.3 L538.6,96.6" stroke="#B56D12" stroke-width="1.4" fill="none"/>
<path d="M319.3,66.9 H539.0" stroke="#5E5E5E" stroke-width="1.2" fill="none"/>
<circle cx="335.7" cy="106.6" r="2.0" fill="#FF0000"/>
<circle cx="373.9" cy="83.9" r="2.0" fill="#FF0000"/>
<circle cx="431.5" cy="69.5" r="2.0" fill="#FF0000"/>
<circle cx="512.0" cy="128.2" r="2.0" fill="#FF0000"/>
<circle cx="537.8" cy="124.0" r="2.0" fill="#FF0000"/>
<path d="M31.5,159.6 H271.3 V284.4" fill="none" stroke="#BBBBBB" stroke-width="1"/>
<path d="M31.5,159.6 V284.4 H271.3" fill="none" stroke="#BBBBBB" stroke-width="1"/>
<path d="M28.7,159.6 H31.5" stroke="#BBBBBB" stroke-width="1"/>
<text x="24.2" y="162.4" font-size="7.3" fill="#4F4F4F" text-anchor="end" font-family='"Liberation Sans", sans-serif'>400</text>
<path d="M28.7,222.0 H31.5" stroke="#BBBBBB" stroke-width="1"/>
<text x="24.2" y="224.8" font-size="7.3" fill="#4F4F4F" text-anchor="end" font-family='"Liberation Sans", sans-serif'>200</text>
<path d="M28.7,284.4 H31.5" stroke="#BBBBBB" stroke-width="1"/>
<text x="24.2" y="287.2" font-size="7.3" fill="#4F4F4F" text-anchor="end" font-family='"Liberation Sans", sans-serif'>0</text>
<path d="M31.5,284.4 V286.9" stroke="#BBBBBB" stroke-width="1"/>
<path d="M51.5,284.4 V286.9" stroke="#BBBBBB" stroke-width="1"/>
<path d="M71.5,284.4 V286.9" stroke="#BBBBBB" stroke-width="1"/>
<path d="M91.5,284.4 V286.9" stroke="#BBBBBB" stroke-width="1"/>
<path d="M111.4,284.4 V286.9" stroke="#BBBBBB" stroke-width="1"/>
<path d="M131.4,284.4 V286.9" stroke="#BBBBBB" stroke-width="1"/>
<path d="M151.4,284.4 V286.9" stroke="#BBBBBB" stroke-width="1"/>
<path d="M171.4,284.4 V286.9" stroke="#BBBBBB" stroke-width="1"/>
<path d="M191.4,284.4 V286.9" stroke="#BBBBBB" stroke-width="1"/>
<path d="M211.4,284.4 V286.9" stroke="#BBBBBB" stroke-width="1"/>
<path d="M231.3,284.4 V286.9" stroke="#BBBBBB" stroke-width="1"/>
<path d="M251.3,284.4 V286.9" stroke="#BBBBBB" stroke-width="1"/>
<path d="M271.3,284.4 V286.9" stroke="#BBBBBB" stroke-width="1"/>
<text x="41.5" y="296.1" font-size="6.5" fill="#4F4F4F" text-anchor="middle" font-family='"Liberation Sans", sans-serif'>Jan</text>
<text x="61.5" y="296.1" font-size="6.5" fill="#4F4F4F" text-anchor="middle" font-family='"Liberation Sans", sans-serif'>Feb</text>
<text x="81.5" y="296.1" font-size="6.5" fill="#4F4F4F" text-anchor="middle" font-family='"Liberation Sans", sans-serif'>Mar</text>
<text x="101.4" y="296.1" font-size="6.5" fill="#4F4F4F" text-anchor="middle" font-family='"Liberation Sans", sans-serif'>Apr</text>
<text x="121.4" y="296.1" font-size="6.5" fill="#4F4F4F" text-anchor="middle" font-family='"Liberation Sans", sans-serif'>May</text>
<text x="141.4" y="296.1" font-size="6.5" fill="#4F4F4F" text-anchor="middle" font-family='"Liberation Sans", sans-serif'>Jun</text>
<text x="161.4" y="296.1" font-size="6.5" fill="#4F4F4F" text-anchor="middle" font-family='"Liberation Sans", sans-serif'>Jul</text>
<text x="181.4" y="296.1" font-size="6.5" fill="#4F4F4F" text-anchor="middle" font-family='"Liberation Sans", sans-serif'>Aug</text>
<text x="201.4" y="296.1" font-size="6.5" fill="#4F4F4F" text-anchor="middle" font-family='"Liberation Sans", sans-serif'>Sep</text>
<text x="221.3" y="296.1" font-size="6.5" fill="#4F4F4F" text-anchor="middle" font-family='"Liberation Sans", sans-serif'>Oct</text>
<text x="241.3" y="296.1" font-size="6.5" fill="#4F4F4F" text-anchor="middle" font-family='"Liberation Sans", sans-serif'>Nov</text>
<text x="261.3" y="296.1" font-size="6.5" fill="#4F4F4F" text-anchor="middle" font-family='"Liberation Sans", sans-serif'>Dec</text>
<text x="142.4" y="157.8" font-size="8.6" font-weight="bold" fill="#000" text-anchor="middle" font-family='"Liberation Sans", sans-serif'>Aube</text>
<text x="0" y="0" transform="translate(7.5,220.9) rotate(-90)" font-size="6.80" font-weight="bold" fill="#000" text-anchor="middle" font-family='"Liberation Sans", sans-serif' textLength="86.0" lengthAdjust="spacingAndGlyphs">Reservoir Storage (MCM)</text>
<path d="M41.5,283.4 H261.3" stroke="#6E6E6E" stroke-width="1.2" stroke-dasharray="9,4,1,4" fill="none"/>
<path d="M41.6,283.5 L42.6,283.5 L43.6,283.6 L44.6,283.6 L45.6,283.7 L46.6,283.7 L47.6,283.8 L48.6,283.8 L49.6,283.8 L50.6,283.9 L51.6,283.9 L52.6,283.9 L53.6,284.0 L54.6,284.0 L55.6,284.0 L56.6,284.0 L57.6,284.0 L58.6,284.0 L59.6,284.1 L60.6,284.1 L61.6,284.1 L62.6,284.1 L63.6,284.1 L64.6,284.1 L65.6,284.1 L66.6,284.1 L67.6,284.1 L68.6,284.0 L69.6,284.0 L70.6,284.0 L71.6,284.0 L72.6,284.0 L73.6,283.9 L74.6,283.9 L75.6,283.9 L76.6,283.8 L77.6,283.8 L78.6,283.8 L79.6,283.7 L80.6,283.7 L81.6,283.6 L82.6,283.6 L83.6,283.5 L84.6,283.5 L85.6,283.4 L86.6,283.3 L87.6,283.3 L88.6,283.2 L89.6,283.1 L90.6,283.1 L91.6,283.0 L92.6,282.9 L93.6,282.8 L94.6,282.7 L95.6,282.6 L96.6,282.5 L97.6,282.5 L98.6,282.3 L99.6,282.2 L100.6,282.1 L101.6,282.0 L102.6,281.9 L103.6,281.8 L104.6,281.7 L105.6,281.5 L106.6,281.4 L107.6,281.3 L108.6,281.2 L109.6,281.0 L110.6,280.9 L111.6,280.7 L112.6,280.6 L113.6,280.4 L114.6,280.3 L115.6,280.2 L116.6,280.0 L117.6,279.9 L118.6,279.7 L119.6,279.6 L120.6,279.4 L121.6,279.3 L122.6,279.1 L123.6,279.0 L124.6,278.8 L125.6,278.7 L126.6,278.5 L127.6,278.4 L128.6,278.2 L129.6,278.1 L130.6,278.0 L131.6,277.8 L132.6,277.7 L133.6,277.6 L134.6,277.5 L135.6,277.3 L136.6,277.2 L137.6,277.1 L138.6,277.0 L139.6,276.9 L140.6,276.8 L141.6,276.7 L142.6,276.6 L143.6,276.6 L144.6,276.5 L145.6,276.4 L146.6,276.4 L147.6,276.3 L148.6,276.3 L149.6,276.2 L150.6,276.2 L151.6,276.2 L152.6,276.1 L153.6,276.1 L154.6,276.1 L155.6,276.1 L156.6,276.1 L157.6,276.1 L158.6,276.1 L159.6,276.1 L160.6,276.1 L161.6,276.1 L162.6,276.1 L163.6,276.1 L164.6,276.1 L165.6,276.2 L166.6,276.2 L167.6,276.2 L168.6,276.3 L169.6,276.3 L170.6,276.4 L171.6,276.4 L172.6,276.5 L173.6,276.5 L174.6,276.6 L175.6,276.6 L176.6,276.7 L177.6,276.7 L178.6,276.8 L179.6,276.9 L180.6,276.9 L181.6,277.0 L182.6,277.1 L183.6,277.2 L184.6,277.2 L185.6,277.3 L186.6,277.4 L187.6,277.5 L188.6,277.5 L189.6,277.6 L190.6,277.7 L191.6,277.8 L192.6,277.9 L193.6,278.0 L194.6,278.0 L195.6,278.1 L196.6,278.2 L197.6,278.3 L198.6,278.4 L199.6,278.5 L200.6,278.6 L201.6,278.6 L202.6,278.7 L203.6,278.8 L204.6,278.9 L205.6,279.0 L206.6,279.1 L207.6,279.2 L208.6,279.2 L209.6,279.3 L210.6,279.4 L211.6,279.5 L212.6,279.6 L213.6,279.6 L214.6,279.7 L215.6,279.8 L216.6,279.9 L217.6,280.0 L218.6,280.0 L219.6,280.1 L220.6,280.2 L221.6,280.3 L222.6,280.3 L223.6,280.4 L224.6,280.5 L225.6,280.5 L226.6,280.6 L227.6,280.7 L228.6,280.7 L229.6,280.8 L230.6,280.9 L231.6,280.9 L232.6,281.0 L233.6,281.1 L234.6,281.1 L235.6,281.2 L236.6,281.2 L237.6,281.3 L238.6,281.3 L239.6,281.4 L240.6,281.4 L241.6,281.5 L242.6,281.5 L243.6,281.6 L244.6,281.6 L245.6,281.7 L246.6,281.7 L247.6,281.8 L248.6,281.8 L249.6,281.8 L250.6,281.9 L251.6,281.9 L252.6,281.9 L253.6,282.0 L254.6,282.0 L255.6,282.0 L256.6,282.0 L257.6,282.0 L258.6,282.1 L259.6,282.1 L260.6,282.1 L261.6,282.1 L262.5,282.1" stroke="#C98432" stroke-width="1.1" stroke-dasharray="3,1.5" fill="none"/>
<path d="M41.6,283.4 L42.6,283.5 L43.6,283.6 L44.6,283.6 L45.6,283.7 L46.6,283.7 L47.6,283.7 L48.6,283.8 L49.6,283.8 L50.6,283.9 L51.6,283.9 L52.6,283.9 L53.6,284.0 L54.6,284.0 L55.6,284.0 L56.6,284.0 L57.6,284.0 L58.6,284.0 L59.6,284.1 L60.6,284.1 L61.6,284.0 L62.6,284.0 L63.6,284.0 L64.6,284.0 L65.6,284.0 L66.6,283.9 L67.6,283.9 L68.6,283.9 L69.6,283.8 L70.6,283.8 L71.6,283.7 L72.6,283.6 L73.6,283.5 L74.6,283.5 L75.6,283.4 L76.6,283.3 L77.6,283.2 L78.6,283.0 L79.6,282.9 L80.6,282.8 L81.6,282.6 L82.6,282.5 L83.6,282.3 L84.6,282.2 L85.6,282.0 L86.6,281.8 L87.6,281.6 L88.6,281.4 L89.6,281.2 L90.6,281.0 L91.6,280.8 L92.6,280.6 L93.6,280.4 L94.6,280.1 L95.6,279.9 L96.6,279.7 L97.6,279.4 L98.6,279.2 L99.6,278.9 L100.6,278.7 L101.6,278.4 L102.6,278.2 L103.6,277.9 L104.6,277.7 L105.6,277.4 L106.6,277.1 L107.6,276.9 L108.6,276.6 L109.6,276.4 L110.6,276.1 L111.6,275.8 L112.6,275.6 L113.6,275.3 L114.6,275.1 L115.6,274.8 L116.6,274.6 L117.6,274.3 L118.6,274.1 L119.6,273.8 L120.6,273.6 L121.6,273.4 L122.6,273.1 L123.6,272.9 L124.6,272.7 L125.6,272.5 L126.6,272.3 L127.6,272.1 L128.6,271.9 L129.6,271.7 L130.6,271.5 L131.6,271.3 L132.6,271.1 L133.6,271.0 L134.6,270.8 L135.6,270.7 L136.6,270.6 L137.6,270.4 L138.6,270.3 L139.6,270.2 L140.6,270.1 L141.6,270.0 L142.6,269.9 L143.6,269.9 L144.6,269.8 L145.6,269.8 L146.6,269.7 L147.6,269.7 L148.6,269.7 L149.6,269.7 L150.6,269.7 L151.6,269.7 L152.6,269.7 L153.6,269.8 L154.6,269.8 L155.6,269.8 L156.6,269.9 L157.6,270.0 L158.6,270.0 L159.6,270.1 L160.6,270.2 L161.6,270.3 L162.6,270.4 L163.6,270.5 L164.6,270.6 L165.6,270.7 L166.6,270.8 L167.6,270.9 L168.6,271.0 L169.6,271.2 L170.6,271.3 L171.6,271.4 L172.6,271.6 L173.6,271.7 L174.6,271.9 L175.6,272.0 L176.6,272.2 L177.6,272.3 L178.6,272.5 L179.6,272.6 L180.6,272.8 L181.6,273.0 L182.6,273.1 L183.6,273.3 L184.6,273.5 L185.6,273.6 L186.6,273.8 L187.6,274.0 L188.6,274.2 L189.6,274.3 L190.6,274.5 L191.6,274.7 L192.6,274.8 L193.6,275.0 L194.6,275.2 L195.6,275.3 L196.6,275.5 L197.6,275.7 L198.6,275.8 L199.6,276.0 L200.6,276.1 L201.6,276.3 L202.6,276.4 L203.6,276.6 L204.6,276.7 L205.6,276.8 L206.6,277.0 L207.6,277.1 L208.6,277.2 L209.6,277.4 L210.6,277.5 L211.6,277.6 L212.6,277.7 L213.6,277.8 L214.6,278.0 L215.6,278.1 L216.6,278.2 L217.6,278.3 L218.6,278.4 L219.6,278.5 L220.6,278.6 L221.6,278.7 L222.6,278.8 L223.6,278.9 L224.6,279.0 L225.6,279.0 L226.6,279.1 L227.6,279.2 L228.6,279.3 L229.6,279.4 L230.6,279.5 L231.6,279.6 L232.6,279.6 L233.6,279.7 L234.6,279.8 L235.6,279.9 L236.6,280.0 L237.6,280.0 L238.6,280.1 L239.6,280.2 L240.6,280.3 L241.6,280.3 L242.6,280.4 L243.6,280.5 L244.6,280.6 L245.6,280.6 L246.6,280.7 L247.6,280.8 L248.6,280.9 L249.6,281.0 L250.6,281.0 L251.6,281.1 L252.6,281.2 L253.6,281.3 L254.6,281.3 L255.6,281.4 L256.6,281.5 L257.6,281.6 L258.6,281.7 L259.6,281.8 L260.6,281.8 L261.6,281.9 L262.5,282.0" stroke="#2BB0C4" stroke-width="1.1" stroke-dasharray="3,1.5" fill="none"/>
<path d="M41.5,282.9 L42.5,282.9 L43.5,282.9 L44.5,282.9 L45.5,282.9 L46.5,282.8 L47.5,282.8 L48.5,282.7 L49.5,282.6 L50.5,282.6 L51.5,282.5 L52.5,282.4 L53.5,282.2 L54.5,282.1 L55.5,282.0 L56.5,281.8 L57.5,281.7 L58.5,281.5 L59.5,281.3 L60.5,281.2 L61.5,281.0 L62.5,280.8 L63.5,280.6 L64.5,280.4 L65.5,280.2 L66.5,279.9 L67.5,279.7 L68.5,279.5 L69.5,279.2 L70.5,279.0 L71.5,278.7 L72.5,278.5 L73.5,278.2 L74.5,277.9 L75.5,277.7 L76.5,277.4 L77.5,277.1 L78.5,276.8 L79.5,276.5 L80.5,276.2 L81.5,275.9 L82.5,275.6 L83.5,275.3 L84.5,275.0 L85.5,274.7 L86.5,274.4 L87.5,274.1 L88.5,273.8 L89.5,273.4 L90.5,273.1 L91.5,272.8 L92.5,272.5 L93.5,272.2 L94.5,271.8 L95.5,271.5 L96.5,271.2 L97.5,270.9 L98.5,270.5 L99.5,270.2 L100.5,269.9 L101.5,269.6 L102.5,269.3 L103.5,268.9 L104.5,268.6 L105.5,268.3 L106.5,268.0 L107.5,267.7 L108.5,267.4 L109.5,267.1 L110.5,266.8 L111.5,266.5 L112.5,266.2 L113.5,265.9 L114.5,265.7 L115.5,265.4 L116.5,265.1 L117.5,264.9 L118.5,264.6 L119.5,264.4 L120.5,264.1 L121.5,263.9 L122.5,263.7 L123.5,263.5 L124.5,263.3 L125.5,263.1 L126.5,262.9 L127.5,262.7 L128.5,262.5 L129.5,262.4 L130.5,262.2 L131.5,262.1 L132.5,262.0 L133.5,261.8 L134.5,261.7 L135.5,261.7 L136.5,261.6 L137.5,261.5 L138.5,261.5 L139.5,261.4 L140.5,261.4 L141.5,261.4 L142.5,261.4 L143.5,261.4 L144.5,261.5 L145.5,261.5 L146.5,261.6 L147.5,261.7 L148.5,261.8 L149.5,261.9 L150.5,262.0 L151.5,262.1 L152.5,262.2 L153.5,262.4 L154.5,262.5 L155.5,262.7 L156.5,262.9 L157.5,263.0 L158.5,263.2 L159.5,263.4 L160.5,263.6 L161.5,263.8 L162.5,264.0 L163.5,264.2 L164.5,264.5 L165.5,264.7 L166.5,264.9 L167.5,265.1 L168.5,265.4 L169.5,265.6 L170.5,265.9 L171.5,266.1 L172.5,266.4 L173.5,266.6 L174.5,266.9 L175.5,267.2 L176.5,267.4 L177.5,267.7 L178.5,268.0 L179.5,268.3 L180.5,268.5 L181.5,268.8 L182.5,269.1 L183.5,269.4 L184.5,269.6 L185.5,269.9 L186.5,270.2 L187.5,270.5 L188.5,270.8 L189.5,271.0 L190.5,271.3 L191.5,271.6 L192.5,271.9 L193.5,272.2 L194.5,272.4 L195.5,272.7 L196.5,273.0 L197.5,273.2 L198.5,273.5 L199.5,273.8 L200.5,274.0 L201.5,274.3 L202.5,274.5 L203.5,274.8 L204.5,275.0 L205.5,275.3 L206.5,275.5 L207.5,275.7 L208.5,275.9 L209.5,276.2 L210.5,276.4 L211.5,276.6 L212.5,276.8 L213.5,277.0 L214.5,277.2 L215.5,277.4 L216.5,277.5 L217.5,277.7 L218.5,277.9 L219.5,278.0 L220.5,278.2 L221.5,278.3 L222.5,278.4 L223.5,278.6 L224.5,278.7 L225.5,278.8 L226.5,278.9 L227.5,279.0 L228.5,279.1 L229.5,279.2 L230.5,279.2 L231.5,279.3 L232.5,279.4 L233.5,279.5 L234.5,279.5 L235.5,279.6 L236.5,279.7 L237.5,279.7 L238.5,279.8 L239.5,279.8 L240.5,279.9 L241.5,280.0 L242.5,280.0 L243.5,280.1 L244.5,280.2 L245.5,280.2 L246.5,280.3 L247.5,280.4 L248.5,280.4 L249.5,280.5 L250.5,280.6 L251.5,280.7 L252.5,280.8 L253.5,280.9 L254.5,281.0 L255.5,281.1 L256.5,281.2 L257.5,281.4 L258.5,281.5 L259.5,281.7 L260.5,281.8 L261.3,281.9" stroke="#5FB03A" stroke-width="1.1" stroke-dasharray="3,1.5" fill="none"/>
<path d="M41.6,282.5 L42.6,282.3 L43.6,282.2 L44.6,282.0 L45.6,281.8 L46.6,281.5 L47.6,281.3 L48.6,281.0 L49.6,280.7 L50.6,280.3 L51.6,280.0 L52.6,279.6 L53.6,279.3 L54.6,278.9 L55.6,278.5 L56.6,278.0 L57.6,277.6 L58.6,277.1 L59.6,276.6 L60.6,276.2 L61.6,275.7 L62.6,275.1 L63.6,274.6 L64.6,274.1 L65.6,273.5 L66.6,273.0 L67.6,272.4 L68.6,271.9 L69.6,271.3 L70.6,270.7 L71.6,270.1 L72.6,269.5 L73.6,268.9 L74.6,268.3 L75.6,267.7 L76.6,267.1 L77.6,266.5 L78.6,265.9 L79.6,265.2 L80.6,264.6 L81.6,264.0 L82.6,263.4 L83.6,262.8 L84.6,262.2 L85.6,261.6 L86.6,261.0 L87.6,260.4 L88.6,259.8 L89.6,259.2 L90.6,258.7 L91.6,258.1 L92.6,257.6 L93.6,257.0 L94.6,256.5 L95.6,256.0 L96.6,255.5 L97.6,255.1 L98.6,254.6 L99.6,254.2 L100.6,253.8 L101.6,253.4 L102.6,253.0 L103.6,252.7 L104.6,252.4 L105.6,252.1 L106.6,251.8 L107.6,251.5 L108.6,251.2 L109.6,251.0 L110.6,250.8 L111.6,250.6 L112.6,250.4 L113.6,250.3 L114.6,250.1 L115.6,250.0 L116.6,249.9 L117.6,249.8 L118.6,249.7 L119.6,249.6 L120.6,249.6 L121.6,249.5 L122.6,249.5 L123.6,249.5 L124.6,249.5 L125.6,249.5 L126.6,249.5 L127.6,249.6 L128.6,249.6 L129.6,249.7 L130.6,249.8 L131.6,249.9 L132.6,250.0 L133.6,250.1 L134.6,250.2 L135.6,250.3 L136.6,250.4 L137.6,250.6 L138.6,250.7 L139.6,250.9 L140.6,251.1 L141.6,251.2 L142.6,251.4 L143.6,251.6 L144.6,251.8 L145.6,252.0 L146.6,252.2 L147.6,252.4 L148.6,252.6 L149.6,252.9 L150.6,253.1 L151.6,253.3 L152.6,253.6 L153.6,253.8 L154.6,254.1 L155.6,254.4 L156.6,254.6 L157.6,254.9 L158.6,255.2 L159.6,255.5 L160.6,255.8 L161.6,256.1 L162.6,256.4 L163.6,256.7 L164.6,257.0 L165.6,257.3 L166.6,257.6 L167.6,258.0 L168.6,258.3 L169.6,258.7 L170.6,259.0 L171.6,259.3 L172.6,259.7 L173.6,260.1 L174.6,260.4 L175.6,260.8 L176.6,261.2 L177.6,261.5 L178.6,261.9 L179.6,262.3 L180.6,262.7 L181.6,263.1 L182.6,263.4 L183.6,263.8 L184.6,264.2 L185.6,264.6 L186.6,265.0 L187.6,265.4 L188.6,265.8 L189.6,266.2 L190.6,266.6 L191.6,267.0 L192.6,267.3 L193.6,267.7 L194.6,268.1 L195.6,268.5 L196.6,268.9 L197.6,269.2 L198.6,269.6 L199.6,270.0 L200.6,270.3 L201.6,270.7 L202.6,271.0 L203.6,271.4 L204.6,271.7 L205.6,272.0 L206.6,272.3 L207.6,272.6 L208.6,272.9 L209.6,273.2 L210.6,273.5 L211.6,273.8 L212.6,274.1 L213.6,274.4 L214.6,274.6 L215.6,274.9 L216.6,275.2 L217.6,275.4 L218.6,275.6 L219.6,275.9 L220.6,276.1 L221.6,276.3 L222.6,276.5 L223.6,276.8 L224.6,277.0 L225.6,277.2 L226.6,277.4 L227.6,277.6 L228.6,277.7 L229.6,277.9 L230.6,278.1 L231.6,278.3 L232.6,278.4 L233.6,278.6 L234.6,278.8 L235.6,278.9 L236.6,279.1 L237.6,279.2 L238.6,279.3 L239.6,279.5 L240.6,279.6 L241.6,279.7 L242.6,279.8 L243.6,280.0 L244.6,280.1 L245.6,280.2 L246.6,280.3 L247.6,280.4 L248.6,280.5 L249.6,280.6 L250.6,280.7 L251.6,280.8 L252.6,280.9 L253.6,281.0 L254.6,281.0 L255.6,281.1 L256.6,281.2 L257.6,281.3 L258.6,281.3 L259.6,281.4 L260.6,281.5 L261.6,281.5 L262.0,281.6" stroke="#FF6E6E" stroke-width="1.1" stroke-dasharray="3,1.5" fill="none"/>
<path d="M41.6,279.9 L42.6,279.2 L43.6,278.6 L44.6,277.9 L45.6,277.2 L46.6,276.6 L47.6,275.9 L48.6,275.2 L49.6,274.6 L50.6,273.9 L51.6,273.2 L52.6,272.5 L53.6,271.8 L54.6,271.1 L55.6,270.5 L56.6,269.8 L57.6,269.1 L58.6,268.4 L59.6,267.7 L60.6,267.0 L61.6,266.2 L62.6,265.5 L63.6,264.8 L64.6,264.1 L65.6,263.4 L66.6,262.7 L67.6,261.9 L68.6,261.2 L69.6,260.5 L70.6,259.7 L71.6,259.0 L72.6,258.3 L73.6,257.5 L74.6,256.8 L75.6,256.0 L76.6,255.3 L77.6,254.5 L78.6,253.8 L79.6,253.0 L80.6,252.3 L81.6,251.5 L82.6,250.7 L83.6,250.0 L84.6,249.2 L85.6,248.4 L86.6,247.7 L87.6,246.9 L88.6,246.2 L89.6,245.4 L90.6,244.7 L91.6,243.9 L92.6,243.2 L93.6,242.5 L94.6,241.8 L95.6,241.1 L96.6,240.4 L97.6,239.7 L98.6,239.1 L99.6,238.4 L100.6,237.8 L101.6,237.2 L102.6,236.6 L103.6,236.0 L104.6,235.5 L105.6,235.0 L106.6,234.4 L107.6,233.9 L108.6,233.5 L109.6,233.0 L110.6,232.5 L111.6,232.1 L112.6,231.7 L113.6,231.3 L114.6,230.9 L115.6,230.6 L116.6,230.2 L117.6,229.9 L118.6,229.6 L119.6,229.3 L120.6,229.0 L121.6,228.8 L122.6,228.5 L123.6,228.3 L124.6,228.1 L125.6,227.9 L126.6,227.7 L127.6,227.7 L128.6,227.7 L129.6,227.7 L130.6,227.7 L131.6,227.7 L132.6,227.7 L133.6,227.7 L134.6,227.7 L135.6,227.7 L136.6,227.7 L137.6,227.7 L138.6,227.7 L139.6,227.7 L140.6,227.7 L141.6,227.7 L142.6,227.7 L143.6,227.7 L144.6,227.7 L145.6,227.7 L146.6,227.7 L147.6,227.7 L148.6,227.7 L149.6,227.7 L150.6,227.7 L151.6,227.7 L152.6,227.7 L153.6,227.7 L154.6,227.7 L155.6,227.7 L156.6,227.7 L157.6,227.7 L158.6,227.7 L159.6,227.7 L160.6,227.7 L161.6,227.7 L162.6,227.7 L163.6,227.7 L164.6,227.8 L165.6,227.8 L166.6,227.9 L167.6,228.0 L168.6,228.0 L169.6,228.1 L170.6,228.3 L171.6,228.4 L172.6,228.6 L173.6,228.7 L174.6,229.0 L175.6,229.2 L176.6,229.4 L177.6,229.7 L178.6,230.0 L179.6,230.4 L180.6,230.7 L181.6,231.1 L182.6,231.5 L183.6,232.0 L184.6,232.4 L185.6,232.9 L186.6,233.4 L187.6,234.0 L188.6,234.6 L189.6,235.2 L190.6,235.8 L191.6,236.5 L192.6,237.2 L193.6,237.9 L194.6,238.7 L195.6,239.4 L196.6,240.3 L197.6,241.1 L198.6,242.0 L199.6,242.9 L200.6,243.8 L201.6,244.8 L202.6,245.7 L203.6,246.7 L204.6,247.7 L205.6,248.7 L206.6,249.7 L207.6,250.7 L208.6,251.7 L209.6,252.7 L210.6,253.7 L211.6,254.6 L212.6,255.6 L213.6,256.6 L214.6,257.5 L215.6,258.4 L216.6,259.3 L217.6,260.2 L218.6,261.1 L219.6,261.9 L220.6,262.8 L221.6,263.6 L222.6,264.3 L223.6,265.1 L224.6,265.9 L225.6,266.6 L226.6,267.3 L227.6,268.0 L228.6,268.6 L229.6,269.3 L230.6,269.9 L231.6,270.5 L232.6,271.1 L233.6,271.7 L234.6,272.2 L235.6,272.8 L236.6,273.3 L237.6,273.8 L238.6,274.3 L239.6,274.7 L240.6,275.2 L241.6,275.6 L242.6,276.0 L243.6,276.4 L244.6,276.7 L245.6,277.1 L246.6,277.4 L247.6,277.7 L248.6,278.0 L249.6,278.3 L250.6,278.6 L251.6,278.8 L252.6,279.0 L253.6,279.2 L254.6,279.4 L255.6,279.6 L256.6,279.8 L257.6,279.9 L258.6,280.0 L259.6,280.1 L260.6,280.2 L261.6,280.3 L262.0,280.3" stroke="#FF4F4F" stroke-width="1.4" fill="none"/>
<path d="M41.6,275.0 L42.6,274.2 L43.6,273.3 L44.6,272.5 L45.6,271.7 L46.6,270.8 L47.6,269.9 L48.6,269.1 L49.6,268.2 L50.6,267.4 L51.6,266.5 L52.6,265.6 L53.6,264.8 L54.6,263.9 L55.6,263.0 L56.6,262.2 L57.6,261.3 L58.6,260.4 L59.6,259.6 L60.6,258.8 L61.6,257.9 L62.6,257.1 L63.6,256.3 L64.6,255.5 L65.6,254.7 L66.6,253.9 L67.6,253.1 L68.6,252.3 L69.6,251.6 L70.6,250.8 L71.6,250.1 L72.6,249.4 L73.6,248.7 L74.6,248.0 L75.6,247.4 L76.6,246.7 L77.6,246.0 L78.6,245.3 L79.6,244.6 L80.6,244.0 L81.6,243.2 L82.6,242.5 L83.6,241.8 L84.6,241.0 L85.6,240.3 L86.6,239.5 L87.6,238.7 L88.6,237.9 L89.6,237.1 L90.6,236.4 L91.6,235.7 L92.6,235.1 L93.6,234.5 L94.6,234.0 L95.6,233.5 L96.6,233.0 L97.6,232.5 L98.6,232.1 L99.6,231.8 L100.6,231.4 L101.6,231.1 L102.6,230.8 L103.6,230.5 L104.6,230.2 L105.6,230.0 L106.6,229.8 L107.6,229.6 L108.6,229.4 L109.6,229.2 L110.6,229.0 L111.6,228.9 L112.6,228.7 L113.6,228.6 L114.6,228.4 L115.6,228.3 L116.6,228.1 L117.6,228.0 L118.6,227.9 L119.6,227.7 L120.6,227.7 L121.6,227.7 L122.6,227.7 L123.6,227.7 L124.6,227.7 L125.6,227.7 L126.6,227.7 L127.6,227.7 L128.6,227.7 L129.6,227.7 L130.6,227.7 L131.6,227.7 L132.6,227.7 L133.6,227.7 L134.6,227.7 L135.6,227.7 L136.6,227.7 L137.6,227.7 L138.6,227.7 L139.6,227.7 L140.6,227.7 L141.6,227.7 L142.6,227.7 L143.6,227.7 L144.6,227.7 L145.6,227.7 L146.6,227.7 L147.6,227.7 L148.6,227.7 L149.6,227.7 L150.6,227.7 L151.6,227.7 L152.6,227.7 L153.6,227.7 L154.6,227.7 L155.6,227.7 L156.6,227.7 L157.6,227.7 L158.6,227.7 L159.6,227.7 L160.6,227.7 L161.6,227.7 L162.6,227.7 L163.6,227.7 L164.6,227.7 L165.6,227.7 L166.6,227.7 L167.6,227.7 L168.6,227.7 L169.6,227.7 L170.6,227.7 L171.6,227.7 L172.6,227.7 L173.6,227.7 L174.6,227.7 L175.6,227.7 L176.6,227.7 L177.6,227.7 L178.6,227.7 L179.6,227.7 L180.6,227.7 L181.6,227.7 L182.6,227.7 L183.6,227.7 L184.6,227.7 L185.6,227.7 L186.6,227.7 L187.6,227.7 L188.6,227.7 L189.6,227.7 L190.6,227.9 L191.6,228.0 L192.6,228.2 L193.6,228.4 L194.6,228.6 L195.6,228.9 L196.6,229.2 L197.6,229.6 L198.6,230.0 L199.6,230.4 L200.6,231.0 L201.6,231.6 L202.6,232.2 L203.6,233.0 L204.6,233.8 L205.6,234.6 L206.6,235.5 L207.6,236.4 L208.6,237.3 L209.6,238.3 L210.6,239.2 L211.6,240.1 L212.6,241.1 L213.6,242.0 L214.6,243.0 L215.6,244.0 L216.6,244.9 L217.6,245.9 L218.6,246.9 L219.6,247.8 L220.6,248.8 L221.6,249.8 L222.6,250.8 L223.6,251.8 L224.6,252.8 L225.6,253.8 L226.6,254.8 L227.6,255.8 L228.6,256.8 L229.6,257.7 L230.6,258.7 L231.6,259.6 L232.6,260.5 L233.6,261.4 L234.6,262.3 L235.6,263.2 L236.6,264.0 L237.6,264.8 L238.6,265.6 L239.6,266.4 L240.6,267.1 L241.6,267.8 L242.6,268.5 L243.6,269.1 L244.6,269.7 L245.6,270.2 L246.6,270.7 L247.6,271.2 L248.6,271.6 L249.6,272.0 L250.6,272.4 L251.6,272.8 L252.6,273.1 L253.6,273.4 L254.6,273.7 L255.6,274.0 L256.6,274.2 L257.6,274.5 L258.6,274.7 L259.6,275.0 L260.6,275.2 L261.6,275.5 L262.0,275.6" stroke="#45A11F" stroke-width="1.4" fill="none"/>
<path d="M41.6,268.1 L42.6,267.3 L43.6,266.6 L44.6,265.8 L45.6,265.0 L46.6,264.2 L47.6,263.4 L48.6,262.6 L49.6,261.8 L50.6,261.0 L51.6,260.2 L52.6,259.3 L53.6,258.5 L54.6,257.6 L55.6,256.8 L56.6,255.9 L57.6,255.1 L58.6,254.2 L59.6,253.3 L60.6,252.5 L61.6,251.6 L62.6,250.8 L63.6,249.9 L64.6,249.1 L65.6,248.2 L66.6,247.4 L67.6,246.5 L68.6,245.7 L69.6,244.9 L70.6,244.0 L71.6,243.2 L72.6,242.4 L73.6,241.6 L74.6,240.9 L75.6,240.1 L76.6,239.3 L77.6,238.6 L78.6,237.9 L79.6,237.2 L80.6,236.5 L81.6,235.8 L82.6,235.2 L83.6,234.6 L84.6,234.0 L85.6,233.5 L86.6,232.9 L87.6,232.4 L88.6,232.0 L89.6,231.5 L90.6,231.1 L91.6,230.8 L92.6,230.4 L93.6,230.1 L94.6,229.8 L95.6,229.6 L96.6,229.3 L97.6,229.1 L98.6,228.9 L99.6,228.7 L100.6,228.6 L101.6,228.4 L102.6,228.3 L103.6,228.1 L104.6,228.0 L105.6,227.9 L106.6,227.8 L107.6,227.7 L108.6,227.7 L109.6,227.7 L110.6,227.7 L111.6,227.7 L112.6,227.7 L113.6,227.7 L114.6,227.7 L115.6,227.7 L116.6,227.7 L117.6,227.7 L118.6,227.7 L119.6,227.7 L120.6,227.7 L121.6,227.7 L122.6,227.7 L123.6,227.7 L124.6,227.7 L125.6,227.7 L126.6,227.7 L127.6,227.7 L128.6,227.7 L129.6,227.7 L130.6,227.7 L131.6,227.7 L132.6,227.7 L133.6,227.7 L134.6,227.7 L135.6,227.7 L136.6,227.7 L137.6,227.7 L138.6,227.7 L139.6,227.7 L140.6,227.7 L141.6,227.7 L142.6,227.7 L143.6,227.7 L144.6,227.7 L145.6,227.7 L146.6,227.7 L147.6,227.7 L148.6,227.7 L149.6,227.7 L150.6,227.7 L151.6,227.7 L152.6,227.7 L153.6,227.7 L154.6,227.7 L155.6,227.7 L156.6,227.7 L157.6,227.7 L158.6,227.7 L159.6,227.7 L160.6,227.7 L161.6,227.7 L162.6,227.7 L163.6,227.7 L164.6,227.7 L165.6,227.7 L166.6,227.7 L167.6,227.7 L168.6,227.7 L169.6,227.7 L170.6,227.7 L171.6,227.7 L172.6,227.7 L173.6,227.7 L174.6,227.7 L175.6,227.7 L176.6,227.7 L177.6,227.7 L178.6,227.7 L179.6,227.7 L180.6,227.7 L181.6,227.7 L182.6,227.7 L183.6,227.7 L184.6,227.7 L185.6,227.7 L186.6,227.7 L187.6,227.7 L188.6,227.7 L189.6,227.7 L190.6,227.7 L191.6,227.7 L192.6,227.7 L193.6,227.7 L194.6,227.7 L195.6,227.7 L196.6,227.7 L197.6,227.7 L198.6,227.7 L199.6,227.8 L200.6,227.9 L201.6,228.1 L202.6,228.3 L203.6,228.5 L204.6,228.7 L205.6,229.0 L206.6,229.2 L207.6,229.5 L208.6,229.8 L209.6,230.1 L210.6,230.4 L211.6,230.8 L212.6,231.1 L213.6,231.5 L214.6,232.0 L215.6,232.4 L216.6,232.9 L217.6,233.4 L218.6,233.9 L219.6,234.5 L220.6,235.1 L221.6,235.8 L222.6,236.4 L223.6,237.1 L224.6,237.9 L225.6,238.7 L226.6,239.5 L227.6,240.4 L228.6,241.2 L229.6,242.1 L230.6,243.1 L231.6,244.0 L232.6,245.0 L233.6,245.9 L234.6,246.9 L235.6,247.8 L236.6,248.8 L237.6,249.7 L238.6,250.7 L239.6,251.6 L240.6,252.5 L241.6,253.3 L242.6,254.2 L243.6,254.9 L244.6,255.7 L245.6,256.4 L246.6,257.1 L247.6,257.7 L248.6,258.3 L249.6,258.9 L250.6,259.4 L251.6,259.9 L252.6,260.3 L253.6,260.8 L254.6,261.2 L255.6,261.6 L256.6,261.9 L257.6,262.3 L258.6,262.6 L259.6,262.9 L260.6,263.2 L261.6,263.5 L262.0,263.7" stroke="#13A0AC" stroke-width="1.4" fill="none"/>
<path d="M41.6,249.4 L42.6,248.6 L43.6,247.9 L44.6,247.1 L45.6,246.4 L46.6,245.7 L47.6,245.0 L48.6,244.3 L49.6,243.6 L50.6,243.0 L51.6,242.3 L52.6,241.7 L53.6,241.0 L54.6,240.4 L55.6,239.8 L56.6,239.2 L57.6,238.6 L58.6,238.1 L59.6,237.5 L60.6,237.0 L61.6,236.4 L62.6,235.9 L63.6,235.4 L64.6,234.9 L65.6,234.5 L66.6,234.0 L67.6,233.6 L68.6,233.1 L69.6,232.7 L70.6,232.3 L71.6,231.9 L72.6,231.6 L73.6,231.2 L74.6,230.9 L75.6,230.6 L76.6,230.3 L77.6,230.0 L78.6,229.7 L79.6,229.4 L80.6,229.2 L81.6,229.0 L82.6,228.8 L83.6,228.6 L84.6,228.4 L85.6,228.3 L86.6,228.1 L87.6,228.0 L88.6,227.9 L89.6,227.8 L90.6,227.7 L91.6,227.7 L92.6,227.7 L93.6,227.7 L94.6,227.7 L95.6,227.7 L96.6,227.7 L97.6,227.7 L98.6,227.7 L99.6,227.7 L100.6,227.7 L101.6,227.7 L102.6,227.7 L103.6,227.7 L104.6,227.7 L105.6,227.7 L106.6,227.7 L107.6,227.7 L108.6,227.7 L109.6,227.7 L110.6,227.7 L111.6,227.7 L112.6,227.7 L113.6,227.7 L114.6,227.7 L115.6,227.7 L116.6,227.7 L117.6,227.7 L118.6,227.7 L119.6,227.7 L120.6,227.7 L121.6,227.7 L122.6,227.7 L123.6,227.7 L124.6,227.7 L125.6,227.7 L126.6,227.7 L127.6,227.7 L128.6,227.7 L129.6,227.7 L130.6,227.7 L131.6,227.7 L132.6,227.7 L133.6,227.7 L134.6,227.7 L135.6,227.7 L136.6,227.7 L137.6,227.7 L138.6,227.7 L139.6,227.7 L140.6,227.7 L141.6,227.7 L142.6,227.7 L143.6,227.7 L144.6,227.7 L145.6,227.7 L146.6,227.7 L147.6,227.7 L148.6,227.7 L149.6,227.7 L150.6,227.7 L151.6,227.7 L152.6,227.7 L153.6,227.7 L154.6,227.7 L155.6,227.7 L156.6,227.7 L157.6,227.7 L158.6,227.7 L159.6,227.7 L160.6,227.7 L161.6,227.7 L162.6,227.7 L163.6,227.7 L164.6,227.7 L165.6,227.7 L166.6,227.7 L167.6,227.7 L168.6,227.7 L169.6,227.7 L170.6,227.7 L171.6,227.7 L172.6,227.7 L173.6,227.7 L174.6,227.7 L175.6,227.7 L176.6,227.7 L177.6,227.7 L178.6,227.7 L179.6,227.7 L180.6,227.7 L181.6,227.7 L182.6,227.7 L183.6,227.7 L184.6,227.7 L185.6,227.7 L186.6,227.7 L187.6,227.7 L188.6,227.7 L189.6,227.7 L190.6,227.7 L191.6,227.7 L192.6,227.7 L193.6,227.7 L194.6,227.7 L195.6,227.7 L196.6,227.7 L197.6,227.7 L198.6,227.7 L199.6,227.7 L200.6,227.7 L201.6,227.7 L202.6,227.7 L203.6,227.7 L204.6,227.7 L205.6,227.7 L206.6,227.7 L207.6,227.7 L208.6,227.7 L209.6,227.7 L210.6,227.7 L211.6,227.7 L212.6,227.8 L213.6,228.0 L214.6,228.1 L215.6,228.2 L216.6,228.4 L217.6,228.5 L218.6,228.7 L219.6,228.8 L220.6,229.0 L221.6,229.2 L222.6,229.4 L223.6,229.6 L224.6,229.8 L225.6,230.1 L226.6,230.3 L227.6,230.6 L228.6,230.9 L229.6,231.3 L230.6,231.6 L231.6,232.0 L232.6,232.4 L233.6,232.9 L234.6,233.3 L235.6,233.8 L236.6,234.4 L237.6,234.9 L238.6,235.5 L239.6,236.1 L240.6,236.8 L241.6,237.4 L242.6,238.1 L243.6,238.8 L244.6,239.5 L245.6,240.3 L246.6,241.0 L247.6,241.7 L248.6,242.5 L249.6,243.3 L250.6,244.0 L251.6,244.8 L252.6,245.6 L253.6,246.4 L254.6,247.1 L255.6,247.9 L256.6,248.7 L257.6,249.5 L258.6,250.2 L259.6,251.0 L260.6,251.8 L261.6,252.6 L262.0,253.0" stroke="#B56D12" stroke-width="1.4" fill="none"/>
<path d="M41.5,226.8 H261.3" stroke="#5E5E5E" stroke-width="1.2" fill="none"/>
<circle cx="53.9" cy="264.4" r="2.0" fill="#FF0000"/>
<circle cx="71.1" cy="249.8" r="2.0" fill="#FF0000"/>
<circle cx="150.7" cy="229.7" r="2.0" fill="#FF0000"/>
<circle cx="231.4" cy="271.0" r="2.0" fill="#FF0000"/>
<path d="M308.0,159.6 H547.6 V284.4" fill="none" stroke="#BBBBBB" stroke-width="1"/>
<path d="M308.0,159.6 V284.4 H547.6" fill="none" stroke="#BBBBBB" stroke-width="1"/>
<path d="M305.2,159.6 H308.0" stroke="#BBBBBB" stroke-width="1"/>
<text x="300.1" y="162.4" font-size="7.3" fill="#4F4F4F" text-anchor="end" font-family='"Liberation Sans", sans-serif'>400</text>
<path d="M305.2,222.0 H308.0" stroke="#BBBBBB" stroke-width="1"/>
<text x="300.1" y="224.8" font-size="7.3" fill="#4F4F4F" text-anchor="end" font-family='"Liberation Sans", sans-serif'>200</text>
<path d="M305.2,284.4 H308.0" stroke="#BBBBBB" stroke-width="1"/>
<text x="300.1" y="287.2" font-size="7.3" fill="#4F4F4F" text-anchor="end" font-family='"Liberation Sans", sans-serif'>0</text>
<path d="M308.0,284.4 V286.9" stroke="#BBBBBB" stroke-width="1"/>
<path d="M328.0,284.4 V286.9" stroke="#BBBBBB" stroke-width="1"/>
<path d="M347.9,284.4 V286.9" stroke="#BBBBBB" stroke-width="1"/>
<path d="M367.9,284.4 V286.9" stroke="#BBBBBB" stroke-width="1"/>
<path d="M387.9,284.4 V286.9" stroke="#BBBBBB" stroke-width="1"/>
<path d="M407.8,284.4 V286.9" stroke="#BBBBBB" stroke-width="1"/>
<path d="M427.8,284.4 V286.9" stroke="#BBBBBB" stroke-width="1"/>
<path d="M447.8,284.4 V286.9" stroke="#BBBBBB" stroke-width="1"/>
<path d="M467.7,284.4 V286.9" stroke="#BBBBBB" stroke-width="1"/>
<path d="M487.7,284.4 V286.9" stroke="#BBBBBB" stroke-width="1"/>
<path d="M507.7,284.4 V286.9" stroke="#BBBBBB" stroke-width="1"/>
<path d="M527.6,284.4 V286.9" stroke="#BBBBBB" stroke-width="1"/>
<path d="M547.6,284.4 V286.9" stroke="#BBBBBB" stroke-width="1"/>
<text x="318.0" y="296.1" font-size="6.5" fill="#4F4F4F" text-anchor="middle" font-family='"Liberation Sans", sans-serif'>Jan</text>
<text x="337.9" y="296.1" font-size="6.5" fill="#4F4F4F" text-anchor="middle" font-family='"Liberation Sans", sans-serif'>Feb</text>
<text x="357.9" y="296.1" font-size="6.5" fill="#4F4F4F" text-anchor="middle" font-family='"Liberation Sans", sans-serif'>Mar</text>
<text x="377.9" y="296.1" font-size="6.5" fill="#4F4F4F" text-anchor="middle" font-family='"Liberation Sans", sans-serif'>Apr</text>
<text x="397.9" y="296.1" font-size="6.5" fill="#4F4F4F" text-anchor="middle" font-family='"Liberation Sans", sans-serif'>May</text>
<text x="417.8" y="296.1" font-size="6.5" fill="#4F4F4F" text-anchor="middle" font-family='"Liberation Sans", sans-serif'>Jun</text>
<text x="437.8" y="296.1" font-size="6.5" fill="#4F4F4F" text-anchor="middle" font-family='"Liberation Sans", sans-serif'>Jul</text>
<text x="457.8" y="296.1" font-size="6.5" fill="#4F4F4F" text-anchor="middle" font-family='"Liberation Sans", sans-serif'>Aug</text>
<text x="477.7" y="296.1" font-size="6.5" fill="#4F4F4F" text-anchor="middle" font-family='"Liberation Sans", sans-serif'>Sep</text>
<text x="497.7" y="296.1" font-size="6.5" fill="#4F4F4F" text-anchor="middle" font-family='"Liberation Sans", sans-serif'>Oct</text>
<text x="517.7" y="296.1" font-size="6.5" fill="#4F4F4F" text-anchor="middle" font-family='"Liberation Sans", sans-serif'>Nov</text>
<text x="537.6" y="296.1" font-size="6.5" fill="#4F4F4F" text-anchor="middle" font-family='"Liberation Sans", sans-serif'>Dec</text>
<text x="423.0" y="157.8" font-size="8.6" font-weight="bold" fill="#000" text-anchor="middle" font-family='"Liberation Sans", sans-serif'>Marne</text>
<text x="0" y="0" transform="translate(283.4,220.9) rotate(-90)" font-size="6.80" font-weight="bold" fill="#000" text-anchor="middle" font-family='"Liberation Sans", sans-serif' textLength="86.0" lengthAdjust="spacingAndGlyphs">Reservoir Storage (MCM)</text>
<path d="M318.0,281.0 H537.6" stroke="#6E6E6E" stroke-width="1.2" stroke-dasharray="9,4,1,4" fill="none"/>
<path d="M317.8,279.9 L318.8,280.0 L319.8,280.0 L320.8,280.0 L321.8,280.0 L322.8,279.9 L323.8,279.9 L324.8,279.8 L325.8,279.8 L326.8,279.7 L327.8,279.6 L328.8,279.5 L329.8,279.3 L330.8,279.2 L331.8,279.0 L332.8,278.8 L333.8,278.6 L334.8,278.4 L335.8,278.2 L336.8,278.0 L337.8,277.7 L338.8,277.5 L339.8,277.2 L340.8,276.9 L341.8,276.6 L342.8,276.2 L343.8,275.9 L344.8,275.5 L345.8,275.2 L346.8,274.8 L347.8,274.4 L348.8,274.0 L349.8,273.5 L350.8,273.1 L351.8,272.6 L352.8,272.2 L353.8,271.7 L354.8,271.2 L355.8,270.7 L356.8,270.3 L357.8,269.8 L358.8,269.3 L359.8,268.8 L360.8,268.2 L361.8,267.7 L362.8,267.2 L363.8,266.7 L364.8,266.2 L365.8,265.7 L366.8,265.2 L367.8,264.7 L368.8,264.2 L369.8,263.7 L370.8,263.2 L371.8,262.7 L372.8,262.2 L373.8,261.7 L374.8,261.3 L375.8,260.8 L376.8,260.3 L377.8,259.9 L378.8,259.5 L379.8,259.0 L380.8,258.6 L381.8,258.2 L382.8,257.8 L383.8,257.4 L384.8,257.1 L385.8,256.7 L386.8,256.4 L387.8,256.0 L388.8,255.7 L389.8,255.4 L390.8,255.1 L391.8,254.8 L392.8,254.6 L393.8,254.3 L394.8,254.1 L395.8,253.9 L396.8,253.7 L397.8,253.5 L398.8,253.3 L399.8,253.2 L400.8,253.1 L401.8,253.0 L402.8,252.9 L403.8,252.8 L404.8,252.8 L405.8,252.8 L406.8,252.8 L407.8,252.8 L408.8,252.8 L409.8,252.8 L410.8,252.9 L411.8,252.9 L412.8,253.0 L413.8,253.1 L414.8,253.2 L415.8,253.3 L416.8,253.4 L417.8,253.6 L418.8,253.7 L419.8,253.8 L420.8,254.0 L421.8,254.1 L422.8,254.3 L423.8,254.5 L424.8,254.6 L425.8,254.8 L426.8,255.0 L427.8,255.1 L428.8,255.3 L429.8,255.5 L430.8,255.7 L431.8,255.9 L432.8,256.1 L433.8,256.2 L434.8,256.4 L435.8,256.6 L436.8,256.8 L437.8,257.0 L438.8,257.2 L439.8,257.4 L440.8,257.6 L441.8,257.9 L442.8,258.1 L443.8,258.3 L444.8,258.5 L445.8,258.7 L446.8,258.9 L447.8,259.2 L448.8,259.4 L449.8,259.6 L450.8,259.8 L451.8,260.1 L452.8,260.3 L453.8,260.5 L454.8,260.7 L455.8,261.0 L456.8,261.2 L457.8,261.4 L458.8,261.7 L459.8,261.9 L460.8,262.1 L461.8,262.4 L462.8,262.6 L463.8,262.9 L464.8,263.1 L465.8,263.3 L466.8,263.6 L467.8,263.8 L468.8,264.1 L469.8,264.3 L470.8,264.6 L471.8,264.8 L472.8,265.1 L473.8,265.3 L474.8,265.5 L475.8,265.8 L476.8,266.0 L477.8,266.3 L478.8,266.5 L479.8,266.8 L480.8,267.0 L481.8,267.3 L482.8,267.5 L483.8,267.8 L484.8,268.0 L485.8,268.2 L486.8,268.5 L487.8,268.7 L488.8,269.0 L489.8,269.2 L490.8,269.4 L491.8,269.7 L492.8,269.9 L493.8,270.2 L494.8,270.4 L495.8,270.6 L496.8,270.9 L497.8,271.1 L498.8,271.3 L499.8,271.6 L500.8,271.8 L501.8,272.0 L502.8,272.2 L503.8,272.5 L504.8,272.7 L505.8,272.9 L506.8,273.1 L507.8,273.3 L508.8,273.6 L509.8,273.8 L510.8,274.0 L511.8,274.2 L512.8,274.4 L513.8,274.6 L514.8,274.8 L515.8,275.0 L516.8,275.2 L517.8,275.4 L518.8,275.6 L519.8,275.8 L520.8,276.0 L521.8,276.2 L522.8,276.4 L523.8,276.5 L524.8,276.7 L525.8,276.9 L526.8,277.1 L527.8,277.2 L528.8,277.4 L529.8,277.6 L530.8,277.7 L531.8,277.9 L532.8,278.0 L533.8,278.2 L534.8,278.3 L535.8,278.5 L536.8,278.6 L537.8,278.7 L538.4,278.8" stroke="#C98432" stroke-width="1.1" stroke-dasharray="3,1.5" fill="none"/>
<path d="M317.8,278.1 L318.8,278.1 L319.8,278.0 L320.8,278.0 L321.8,277.9 L322.8,277.8 L323.8,277.7 L324.8,277.6 L325.8,277.4 L326.8,277.2 L327.8,277.1 L328.8,276.8 L329.8,276.6 L330.8,276.3 L331.8,276.1 L332.8,275.8 L333.8,275.4 L334.8,275.1 L335.8,274.7 L336.8,274.4 L337.8,274.0 L338.8,273.6 L339.8,273.1 L340.8,272.7 L341.8,272.2 L342.8,271.7 L343.8,271.2 L344.8,270.7 L345.8,270.2 L346.8,269.6 L347.8,269.0 L348.8,268.5 L349.8,267.9 L350.8,267.3 L351.8,266.6 L352.8,266.0 L353.8,265.4 L354.8,264.8 L355.8,264.1 L356.8,263.5 L357.8,262.9 L358.8,262.2 L359.8,261.6 L360.8,261.0 L361.8,260.4 L362.8,259.7 L363.8,259.1 L364.8,258.5 L365.8,258.0 L366.8,257.4 L367.8,256.8 L368.8,256.3 L369.8,255.8 L370.8,255.3 L371.8,254.8 L372.8,254.3 L373.8,253.8 L374.8,253.4 L375.8,253.0 L376.8,252.6 L377.8,252.2 L378.8,251.9 L379.8,251.5 L380.8,251.2 L381.8,250.9 L382.8,250.6 L383.8,250.3 L384.8,250.0 L385.8,249.8 L386.8,249.5 L387.8,249.3 L388.8,249.1 L389.8,248.9 L390.8,248.8 L391.8,248.6 L392.8,248.4 L393.8,248.3 L394.8,248.2 L395.8,248.1 L396.8,248.0 L397.8,247.9 L398.8,247.8 L399.8,247.8 L400.8,247.7 L401.8,247.7 L402.8,247.7 L403.8,247.6 L404.8,247.6 L405.8,247.7 L406.8,247.7 L407.8,247.7 L408.8,247.7 L409.8,247.8 L410.8,247.9 L411.8,247.9 L412.8,248.0 L413.8,248.1 L414.8,248.2 L415.8,248.3 L416.8,248.4 L417.8,248.5 L418.8,248.6 L419.8,248.8 L420.8,248.9 L421.8,249.1 L422.8,249.2 L423.8,249.4 L424.8,249.6 L425.8,249.7 L426.8,249.9 L427.8,250.1 L428.8,250.3 L429.8,250.5 L430.8,250.7 L431.8,250.9 L432.8,251.1 L433.8,251.3 L434.8,251.5 L435.8,251.8 L436.8,252.0 L437.8,252.2 L438.8,252.5 L439.8,252.7 L440.8,253.0 L441.8,253.2 L442.8,253.5 L443.8,253.8 L444.8,254.0 L445.8,254.3 L446.8,254.6 L447.8,254.9 L448.8,255.1 L449.8,255.4 L450.8,255.7 L451.8,256.0 L452.8,256.3 L453.8,256.6 L454.8,256.9 L455.8,257.2 L456.8,257.5 L457.8,257.8 L458.8,258.1 L459.8,258.4 L460.8,258.7 L461.8,259.0 L462.8,259.3 L463.8,259.7 L464.8,260.0 L465.8,260.3 L466.8,260.6 L467.8,260.9 L468.8,261.3 L469.8,261.6 L470.8,261.9 L471.8,262.2 L472.8,262.5 L473.8,262.9 L474.8,263.2 L475.8,263.5 L476.8,263.8 L477.8,264.2 L478.8,264.5 L479.8,264.8 L480.8,265.1 L481.8,265.4 L482.8,265.8 L483.8,266.1 L484.8,266.4 L485.8,266.7 L486.8,267.0 L487.8,267.3 L488.8,267.7 L489.8,268.0 L490.8,268.3 L491.8,268.6 L492.8,268.9 L493.8,269.2 L494.8,269.5 L495.8,269.8 L496.8,270.1 L497.8,270.4 L498.8,270.7 L499.8,270.9 L500.8,271.2 L501.8,271.5 L502.8,271.8 L503.8,272.1 L504.8,272.3 L505.8,272.6 L506.8,272.9 L507.8,273.1 L508.8,273.4 L509.8,273.6 L510.8,273.9 L511.8,274.1 L512.8,274.3 L513.8,274.6 L514.8,274.8 L515.8,275.0 L516.8,275.2 L517.8,275.4 L518.8,275.7 L519.8,275.9 L520.8,276.0 L521.8,276.2 L522.8,276.4 L523.8,276.6 L524.8,276.8 L525.8,276.9 L526.8,277.1 L527.8,277.2 L528.8,277.4 L529.8,277.5 L530.8,277.7 L531.8,277.8 L532.8,277.9 L533.8,278.0 L534.8,278.1 L535.8,278.2 L536.8,278.3 L537.8,278.4 L538.4,278.4" stroke="#2BB0C4" stroke-width="1.1" stroke-dasharray="3,1.5" fill="none"/>
<path d="M317.8,275.6 L318.8,275.3 L319.8,275.0 L320.8,274.7 L321.8,274.4 L322.8,274.1 L323.8,273.9 L324.8,273.6 L325.8,273.2 L326.8,272.9 L327.8,272.6 L328.8,272.3 L329.8,271.9 L330.8,271.6 L331.8,271.2 L332.8,270.8 L333.8,270.4 L334.8,270.0 L335.8,269.6 L336.8,269.1 L337.8,268.6 L338.8,268.1 L339.8,267.6 L340.8,267.1 L341.8,266.5 L342.8,265.9 L343.8,265.3 L344.8,264.6 L345.8,263.9 L346.8,263.2 L347.8,262.5 L348.8,261.7 L349.8,260.9 L350.8,260.1 L351.8,259.3 L352.8,258.5 L353.8,257.7 L354.8,256.9 L355.8,256.0 L356.8,255.2 L357.8,254.4 L358.8,253.6 L359.8,252.8 L360.8,252.1 L361.8,251.3 L362.8,250.6 L363.8,249.9 L364.8,249.3 L365.8,248.6 L366.8,248.0 L367.8,247.5 L368.8,246.9 L369.8,246.4 L370.8,245.9 L371.8,245.4 L372.8,244.9 L373.8,244.5 L374.8,244.0 L375.8,243.6 L376.8,243.2 L377.8,242.8 L378.8,242.4 L379.8,242.1 L380.8,241.7 L381.8,241.4 L382.8,241.0 L383.8,240.7 L384.8,240.4 L385.8,240.2 L386.8,239.9 L387.8,239.7 L388.8,239.4 L389.8,239.2 L390.8,239.0 L391.8,238.8 L392.8,238.6 L393.8,238.5 L394.8,238.3 L395.8,238.2 L396.8,238.1 L397.8,238.0 L398.8,237.9 L399.8,237.8 L400.8,237.7 L401.8,237.7 L402.8,237.6 L403.8,237.6 L404.8,237.6 L405.8,237.6 L406.8,237.6 L407.8,237.6 L408.8,237.7 L409.8,237.7 L410.8,237.8 L411.8,237.9 L412.8,237.9 L413.8,238.0 L414.8,238.2 L415.8,238.3 L416.8,238.4 L417.8,238.6 L418.8,238.7 L419.8,238.9 L420.8,239.1 L421.8,239.3 L422.8,239.5 L423.8,239.7 L424.8,239.9 L425.8,240.2 L426.8,240.4 L427.8,240.7 L428.8,240.9 L429.8,241.2 L430.8,241.5 L431.8,241.8 L432.8,242.1 L433.8,242.4 L434.8,242.7 L435.8,243.0 L436.8,243.3 L437.8,243.7 L438.8,244.0 L439.8,244.3 L440.8,244.7 L441.8,245.1 L442.8,245.4 L443.8,245.8 L444.8,246.2 L445.8,246.5 L446.8,246.9 L447.8,247.3 L448.8,247.7 L449.8,248.1 L450.8,248.5 L451.8,248.9 L452.8,249.3 L453.8,249.8 L454.8,250.2 L455.8,250.6 L456.8,251.0 L457.8,251.4 L458.8,251.9 L459.8,252.3 L460.8,252.7 L461.8,253.2 L462.8,253.6 L463.8,254.0 L464.8,254.5 L465.8,254.9 L466.8,255.3 L467.8,255.8 L468.8,256.2 L469.8,256.6 L470.8,257.1 L471.8,257.5 L472.8,257.9 L473.8,258.3 L474.8,258.8 L475.8,259.2 L476.8,259.6 L477.8,260.0 L478.8,260.5 L479.8,260.9 L480.8,261.3 L481.8,261.7 L482.8,262.1 L483.8,262.5 L484.8,262.9 L485.8,263.3 L486.8,263.7 L487.8,264.1 L488.8,264.5 L489.8,264.9 L490.8,265.3 L491.8,265.7 L492.8,266.1 L493.8,266.4 L494.8,266.8 L495.8,267.2 L496.8,267.6 L497.8,267.9 L498.8,268.3 L499.8,268.7 L500.8,269.0 L501.8,269.4 L502.8,269.7 L503.8,270.1 L504.8,270.4 L505.8,270.8 L506.8,271.1 L507.8,271.4 L508.8,271.8 L509.8,272.1 L510.8,272.4 L511.8,272.7 L512.8,273.1 L513.8,273.4 L514.8,273.7 L515.8,274.0 L516.8,274.3 L517.8,274.6 L518.8,274.9 L519.8,275.2 L520.8,275.5 L521.8,275.7 L522.8,276.0 L523.8,276.3 L524.8,276.5 L525.8,276.7 L526.8,277.0 L527.8,277.2 L528.8,277.4 L529.8,277.5 L530.8,277.7 L531.8,277.8 L532.8,277.9 L533.8,278.0 L534.8,278.1 L535.8,278.2 L536.8,278.2 L537.8,278.2 L538.4,278.2" stroke="#5FB03A" stroke-width="1.1" stroke-dasharray="3,1.5" fill="none"/>
<path d="M317.8,273.4 L318.8,272.9 L319.8,272.5 L320.8,272.1 L321.8,271.6 L322.8,271.1 L323.8,270.7 L324.8,270.1 L325.8,269.6 L326.8,269.1 L327.8,268.5 L328.8,268.0 L329.8,267.4 L330.8,266.8 L331.8,266.1 L332.8,265.5 L333.8,264.8 L334.8,264.1 L335.8,263.5 L336.8,262.7 L337.8,262.0 L338.8,261.3 L339.8,260.5 L340.8,259.7 L341.8,258.9 L342.8,258.1 L343.8,257.2 L344.8,256.4 L345.8,255.5 L346.8,254.6 L347.8,253.7 L348.8,252.8 L349.8,251.8 L350.8,250.9 L351.8,249.9 L352.8,249.0 L353.8,248.0 L354.8,247.0 L355.8,246.0 L356.8,245.1 L357.8,244.1 L358.8,243.1 L359.8,242.2 L360.8,241.2 L361.8,240.3 L362.8,239.4 L363.8,238.5 L364.8,237.6 L365.8,236.7 L366.8,235.8 L367.8,235.0 L368.8,234.2 L369.8,233.4 L370.8,232.6 L371.8,231.8 L372.8,231.1 L373.8,230.4 L374.8,229.8 L375.8,229.1 L376.8,228.5 L377.8,228.0 L378.8,227.4 L379.8,226.9 L380.8,226.3 L381.8,225.9 L382.8,225.4 L383.8,225.0 L384.8,224.5 L385.8,224.1 L386.8,223.8 L387.8,223.4 L388.8,223.1 L389.8,222.8 L390.8,222.5 L391.8,222.3 L392.8,222.0 L393.8,221.8 L394.8,221.6 L395.8,221.4 L396.8,221.3 L397.8,221.2 L398.8,221.0 L399.8,221.0 L400.8,220.9 L401.8,220.8 L402.8,220.8 L403.8,220.8 L404.8,220.8 L405.8,220.8 L406.8,220.8 L407.8,220.9 L408.8,221.0 L409.8,221.1 L410.8,221.2 L411.8,221.3 L412.8,221.5 L413.8,221.6 L414.8,221.8 L415.8,222.0 L416.8,222.2 L417.8,222.4 L418.8,222.7 L419.8,222.9 L420.8,223.2 L421.8,223.5 L422.8,223.8 L423.8,224.1 L424.8,224.5 L425.8,224.8 L426.8,225.2 L427.8,225.5 L428.8,225.9 L429.8,226.3 L430.8,226.7 L431.8,227.2 L432.8,227.6 L433.8,228.1 L434.8,228.5 L435.8,229.0 L436.8,229.5 L437.8,230.0 L438.8,230.5 L439.8,231.0 L440.8,231.6 L441.8,232.1 L442.8,232.7 L443.8,233.3 L444.8,233.8 L445.8,234.4 L446.8,235.0 L447.8,235.6 L448.8,236.3 L449.8,236.9 L450.8,237.5 L451.8,238.2 L452.8,238.8 L453.8,239.5 L454.8,240.1 L455.8,240.8 L456.8,241.4 L457.8,242.1 L458.8,242.7 L459.8,243.4 L460.8,244.0 L461.8,244.7 L462.8,245.3 L463.8,246.0 L464.8,246.6 L465.8,247.2 L466.8,247.8 L467.8,248.4 L468.8,249.0 L469.8,249.6 L470.8,250.2 L471.8,250.8 L472.8,251.4 L473.8,252.0 L474.8,252.6 L475.8,253.2 L476.8,253.8 L477.8,254.4 L478.8,255.0 L479.8,255.6 L480.8,256.2 L481.8,256.8 L482.8,257.4 L483.8,258.0 L484.8,258.6 L485.8,259.2 L486.8,259.8 L487.8,260.4 L488.8,261.0 L489.8,261.6 L490.8,262.2 L491.8,262.8 L492.8,263.4 L493.8,264.0 L494.8,264.5 L495.8,265.1 L496.8,265.7 L497.8,266.2 L498.8,266.8 L499.8,267.3 L500.8,267.8 L501.8,268.3 L502.8,268.9 L503.8,269.3 L504.8,269.8 L505.8,270.3 L506.8,270.8 L507.8,271.2 L508.8,271.7 L509.8,272.1 L510.8,272.5 L511.8,272.9 L512.8,273.2 L513.8,273.6 L514.8,274.0 L515.8,274.3 L516.8,274.6 L517.8,274.9 L518.8,275.2 L519.8,275.4 L520.8,275.7 L521.8,275.9 L522.8,276.1 L523.8,276.3 L524.8,276.5 L525.8,276.6 L526.8,276.8 L527.8,277.0 L528.8,277.1 L529.8,277.2 L530.8,277.3 L531.8,277.4 L532.8,277.5 L533.8,277.6 L534.8,277.7 L535.8,277.8 L536.8,277.9 L537.8,277.9 L538.4,277.9" stroke="#FF6E6E" stroke-width="1.1" stroke-dasharray="3,1.5" fill="none"/>
<path d="M317.8,271.0 L318.8,270.2 L319.8,269.4 L320.8,268.6 L321.8,267.8 L322.8,267.0 L323.8,266.2 L324.8,265.4 L325.8,264.6 L326.8,263.8 L327.8,263.0 L328.8,262.2 L329.8,261.4 L330.8,260.6 L331.8,259.8 L332.8,258.9 L333.8,258.1 L334.8,257.2 L335.8,256.4 L336.8,255.5 L337.8,254.6 L338.8,253.7 L339.8,252.8 L340.8,251.8 L341.8,250.9 L342.8,249.9 L343.8,248.9 L344.8,247.9 L345.8,246.8 L346.8,245.7 L347.8,244.7 L348.8,243.5 L349.8,242.4 L350.8,241.2 L351.8,240.0 L352.8,238.8 L353.8,237.5 L354.8,236.2 L355.8,234.9 L356.8,233.6 L357.8,232.2 L358.8,230.8 L359.8,229.4 L360.8,228.0 L361.8,226.6 L362.8,225.1 L363.8,223.7 L364.8,222.2 L365.8,220.7 L366.8,219.2 L367.8,217.7 L368.8,216.2 L369.8,214.6 L370.8,213.1 L371.8,211.6 L372.8,210.0 L373.8,208.5 L374.8,207.0 L375.8,205.5 L376.8,203.9 L377.8,202.4 L378.8,200.9 L379.8,199.4 L380.8,197.9 L381.8,196.4 L382.8,195.0 L383.8,193.5 L384.8,192.1 L385.8,190.7 L386.8,189.4 L387.8,188.1 L388.8,186.8 L389.8,185.6 L390.8,184.4 L391.8,183.2 L392.8,182.1 L393.8,181.1 L394.8,180.1 L395.8,179.2 L396.8,178.3 L397.8,177.5 L398.8,176.8 L399.8,176.2 L400.8,175.6 L401.8,175.1 L402.8,174.6 L403.8,174.2 L404.8,173.8 L405.8,173.5 L406.8,173.2 L407.8,172.9 L408.8,172.7 L409.8,172.5 L410.8,172.4 L411.8,172.3 L412.8,172.2 L413.8,172.1 L414.8,172.0 L415.8,172.0 L416.8,172.1 L417.8,172.1 L418.8,172.3 L419.8,172.4 L420.8,172.6 L421.8,172.8 L422.8,173.1 L423.8,173.5 L424.8,173.9 L425.8,174.3 L426.8,174.8 L427.8,175.4 L428.8,176.0 L429.8,176.7 L430.8,177.5 L431.8,178.3 L432.8,179.2 L433.8,180.1 L434.8,181.2 L435.8,182.2 L436.8,183.3 L437.8,184.5 L438.8,185.8 L439.8,187.1 L440.8,188.4 L441.8,189.9 L442.8,191.3 L443.8,192.9 L444.8,194.4 L445.8,196.1 L446.8,197.7 L447.8,199.4 L448.8,201.2 L449.8,202.9 L450.8,204.7 L451.8,206.5 L452.8,208.3 L453.8,210.1 L454.8,211.9 L455.8,213.6 L456.8,215.4 L457.8,217.1 L458.8,218.8 L459.8,220.4 L460.8,222.1 L461.8,223.7 L462.8,225.2 L463.8,226.8 L464.8,228.3 L465.8,229.7 L466.8,231.2 L467.8,232.6 L468.8,234.0 L469.8,235.4 L470.8,236.7 L471.8,238.0 L472.8,239.3 L473.8,240.6 L474.8,241.8 L475.8,243.1 L476.8,244.3 L477.8,245.4 L478.8,246.6 L479.8,247.7 L480.8,248.8 L481.8,249.9 L482.8,251.0 L483.8,252.0 L484.8,253.1 L485.8,254.1 L486.8,255.0 L487.8,256.0 L488.8,256.9 L489.8,257.8 L490.8,258.7 L491.8,259.6 L492.8,260.4 L493.8,261.2 L494.8,262.0 L495.8,262.8 L496.8,263.5 L497.8,264.2 L498.8,264.9 L499.8,265.6 L500.8,266.2 L501.8,266.9 L502.8,267.5 L503.8,268.0 L504.8,268.6 L505.8,269.1 L506.8,269.6 L507.8,270.0 L508.8,270.5 L509.8,270.9 L510.8,271.3 L511.8,271.7 L512.8,272.0 L513.8,272.3 L514.8,272.7 L515.8,273.0 L516.8,273.2 L517.8,273.5 L518.8,273.7 L519.8,274.0 L520.8,274.2 L521.8,274.4 L522.8,274.5 L523.8,274.7 L524.8,274.9 L525.8,275.0 L526.8,275.2 L527.8,275.3 L528.8,275.4 L529.8,275.5 L530.8,275.6 L531.8,275.7 L532.8,275.8 L533.8,275.9 L534.8,275.9 L535.8,276.0 L536.8,276.1 L537.8,276.2 L538.4,276.2" stroke="#FF4F4F" stroke-width="1.4" fill="none"/>
<path d="M317.8,268.9 L318.8,267.7 L319.8,266.5 L320.8,265.4 L321.8,264.3 L322.8,263.2 L323.8,262.2 L324.8,261.2 L325.8,260.2 L326.8,259.2 L327.8,258.2 L328.8,257.3 L329.8,256.3 L330.8,255.3 L331.8,254.3 L332.8,253.2 L333.8,252.2 L334.8,251.1 L335.8,249.9 L336.8,248.7 L337.8,247.5 L338.8,246.2 L339.8,244.9 L340.8,243.6 L341.8,242.2 L342.8,240.8 L343.8,239.4 L344.8,237.9 L345.8,236.4 L346.8,234.9 L347.8,233.4 L348.8,231.8 L349.8,230.2 L350.8,228.7 L351.8,227.0 L352.8,225.4 L353.8,223.8 L354.8,222.1 L355.8,220.4 L356.8,218.8 L357.8,217.1 L358.8,215.4 L359.8,213.8 L360.8,212.1 L361.8,210.4 L362.8,208.8 L363.8,207.2 L364.8,205.6 L365.8,204.0 L366.8,202.4 L367.8,200.8 L368.8,199.3 L369.8,197.8 L370.8,196.4 L371.8,195.0 L372.8,193.6 L373.8,192.2 L374.8,190.9 L375.8,189.7 L376.8,188.5 L377.8,187.3 L378.8,186.2 L379.8,185.2 L380.8,184.2 L381.8,183.3 L382.8,182.4 L383.8,181.6 L384.8,180.8 L385.8,180.1 L386.8,179.4 L387.8,178.8 L388.8,178.2 L389.8,177.7 L390.8,177.1 L391.8,176.7 L392.8,176.2 L393.8,175.8 L394.8,175.4 L395.8,175.0 L396.8,174.7 L397.8,174.4 L398.8,174.1 L399.8,173.8 L400.8,173.5 L401.8,173.3 L402.8,173.1 L403.8,172.8 L404.8,172.6 L405.8,172.4 L406.8,172.2 L407.8,172.0 L408.8,171.8 L409.8,171.6 L410.8,171.4 L411.8,171.4 L412.8,171.4 L413.8,171.4 L414.8,171.4 L415.8,171.4 L416.8,171.4 L417.8,171.4 L418.8,171.4 L419.8,171.4 L420.8,171.4 L421.8,171.4 L422.8,171.4 L423.8,171.4 L424.8,171.4 L425.8,171.4 L426.8,171.4 L427.8,171.4 L428.8,171.4 L429.8,171.4 L430.8,171.5 L431.8,171.9 L432.8,172.2 L433.8,172.6 L434.8,173.1 L435.8,173.6 L436.8,174.2 L437.8,174.8 L438.8,175.5 L439.8,176.3 L440.8,177.2 L441.8,178.1 L442.8,179.1 L443.8,180.3 L444.8,181.5 L445.8,182.9 L446.8,184.3 L447.8,185.7 L448.8,187.2 L449.8,188.8 L450.8,190.4 L451.8,191.9 L452.8,193.5 L453.8,195.1 L454.8,196.7 L455.8,198.2 L456.8,199.8 L457.8,201.4 L458.8,203.0 L459.8,204.6 L460.8,206.3 L461.8,208.0 L462.8,209.7 L463.8,211.4 L464.8,213.2 L465.8,215.1 L466.8,217.0 L467.8,218.9 L468.8,220.8 L469.8,222.7 L470.8,224.4 L471.8,226.1 L472.8,227.6 L473.8,229.1 L474.8,230.6 L475.8,232.0 L476.8,233.3 L477.8,234.7 L478.8,236.1 L479.8,237.5 L480.8,238.9 L481.8,240.3 L482.8,241.6 L483.8,242.9 L484.8,244.2 L485.8,245.4 L486.8,246.6 L487.8,247.7 L488.8,248.8 L489.8,249.9 L490.8,251.0 L491.8,252.0 L492.8,252.9 L493.8,253.9 L494.8,254.8 L495.8,255.6 L496.8,256.5 L497.8,257.3 L498.8,258.1 L499.8,258.8 L500.8,259.5 L501.8,260.2 L502.8,260.9 L503.8,261.5 L504.8,262.1 L505.8,262.7 L506.8,263.2 L507.8,263.8 L508.8,264.3 L509.8,264.8 L510.8,265.2 L511.8,265.6 L512.8,266.1 L513.8,266.5 L514.8,266.8 L515.8,267.2 L516.8,267.5 L517.8,267.8 L518.8,268.1 L519.8,268.4 L520.8,268.7 L521.8,268.9 L522.8,269.2 L523.8,269.4 L524.8,269.6 L525.8,269.8 L526.8,270.0 L527.8,270.1 L528.8,270.3 L529.8,270.4 L530.8,270.6 L531.8,270.7 L532.8,270.8 L533.8,271.0 L534.8,271.1 L535.8,271.2 L536.8,271.3 L537.8,271.3 L538.4,271.4" stroke="#45A11F" stroke-width="1.4" fill="none"/>
<path d="M317.8,261.2 L318.8,259.6 L319.8,258.1 L320.8,256.6 L321.8,255.1 L322.8,253.6 L323.8,252.1 L324.8,250.6 L325.8,249.1 L326.8,247.7 L327.8,246.2 L328.8,244.8 L329.8,243.3 L330.8,241.9 L331.8,240.4 L332.8,239.0 L333.8,237.5 L334.8,236.1 L335.8,234.6 L336.8,233.2 L337.8,231.7 L338.8,230.3 L339.8,228.8 L340.8,227.3 L341.8,225.9 L342.8,224.4 L343.8,222.9 L344.8,221.4 L345.8,219.9 L346.8,218.4 L347.8,216.9 L348.8,215.4 L349.8,213.9 L350.8,212.4 L351.8,210.9 L352.8,209.4 L353.8,207.8 L354.8,206.3 L355.8,204.8 L356.8,203.2 L357.8,201.7 L358.8,200.2 L359.8,198.7 L360.8,197.1 L361.8,195.6 L362.8,194.1 L363.8,192.5 L364.8,191.1 L365.8,189.6 L366.8,188.2 L367.8,186.8 L368.8,185.5 L369.8,184.3 L370.8,183.1 L371.8,182.1 L372.8,181.0 L373.8,180.1 L374.8,179.2 L375.8,178.4 L376.8,177.7 L377.8,177.0 L378.8,176.3 L379.8,175.7 L380.8,175.2 L381.8,174.7 L382.8,174.3 L383.8,173.9 L384.8,173.5 L385.8,173.2 L386.8,172.9 L387.8,172.6 L388.8,172.4 L389.8,172.2 L390.8,172.0 L391.8,171.9 L392.8,171.7 L393.8,171.6 L394.8,171.5 L395.8,171.4 L396.8,171.4 L397.8,171.4 L398.8,171.4 L399.8,171.4 L400.8,171.4 L401.8,171.4 L402.8,171.4 L403.8,171.4 L404.8,171.4 L405.8,171.4 L406.8,171.4 L407.8,171.4 L408.8,171.4 L409.8,171.4 L410.8,171.4 L411.8,171.4 L412.8,171.4 L413.8,171.4 L414.8,171.4 L415.8,171.4 L416.8,171.4 L417.8,171.4 L418.8,171.4 L419.8,171.4 L420.8,171.4 L421.8,171.4 L422.8,171.4 L423.8,171.4 L424.8,171.4 L425.8,171.4 L426.8,171.4 L427.8,171.4 L428.8,171.4 L429.8,171.4 L430.8,171.4 L431.8,171.4 L432.8,171.4 L433.8,171.4 L434.8,171.4 L435.8,171.4 L436.8,171.4 L437.8,171.4 L438.8,171.4 L439.8,171.4 L440.8,171.4 L441.8,171.4 L442.8,171.4 L443.8,171.4 L444.8,171.4 L445.8,171.4 L446.8,171.4 L447.8,171.4 L448.8,171.4 L449.8,171.4 L450.8,171.4 L451.8,171.7 L452.8,172.0 L453.8,172.4 L454.8,172.8 L455.8,173.3 L456.8,173.9 L457.8,174.6 L458.8,175.3 L459.8,176.1 L460.8,177.0 L461.8,178.0 L462.8,179.1 L463.8,180.2 L464.8,181.5 L465.8,182.8 L466.8,184.1 L467.8,185.5 L468.8,186.9 L469.8,188.3 L470.8,189.7 L471.8,191.1 L472.8,192.5 L473.8,193.8 L474.8,195.2 L475.8,196.5 L476.8,197.8 L477.8,199.2 L478.8,200.5 L479.8,201.9 L480.8,203.2 L481.8,204.6 L482.8,206.0 L483.8,207.4 L484.8,208.9 L485.8,210.4 L486.8,211.9 L487.8,213.4 L488.8,215.0 L489.8,216.6 L490.8,218.2 L491.8,219.8 L492.8,221.4 L493.8,223.0 L494.8,224.5 L495.8,226.0 L496.8,227.5 L497.8,228.9 L498.8,230.3 L499.8,231.6 L500.8,232.9 L501.8,234.2 L502.8,235.4 L503.8,236.5 L504.8,237.7 L505.8,238.7 L506.8,239.8 L507.8,240.8 L508.8,241.8 L509.8,242.7 L510.8,243.6 L511.8,244.5 L512.8,245.3 L513.8,246.1 L514.8,246.8 L515.8,247.5 L516.8,248.2 L517.8,248.8 L518.8,249.4 L519.8,250.0 L520.8,250.5 L521.8,251.0 L522.8,251.5 L523.8,251.9 L524.8,252.3 L525.8,252.6 L526.8,253.0 L527.8,253.3 L528.8,253.5 L529.8,253.7 L530.8,253.9 L531.8,254.1 L532.8,254.2 L533.8,254.3 L534.8,254.4 L535.8,254.4 L536.8,254.5 L537.8,254.4 L538.4,254.4" stroke="#13A0AC" stroke-width="1.4" fill="none"/>
<path d="M318.2,237.6 L319.2,235.9 L320.2,234.3 L321.2,232.7 L322.2,231.1 L323.2,229.5 L324.2,228.0 L325.2,226.5 L326.2,225.0 L327.2,223.6 L328.2,222.1 L329.2,220.7 L330.2,219.3 L331.2,217.9 L332.2,216.5 L333.2,215.1 L334.2,213.8 L335.2,212.4 L336.2,211.0 L337.2,209.7 L338.2,208.4 L339.2,207.0 L340.2,205.7 L341.2,204.3 L342.2,203.0 L343.2,201.7 L344.2,200.3 L345.2,199.0 L346.2,197.6 L347.2,196.3 L348.2,195.0 L349.2,193.6 L350.2,192.4 L351.2,191.1 L352.2,189.8 L353.2,188.6 L354.2,187.4 L355.2,186.3 L356.2,185.1 L357.2,184.1 L358.2,183.0 L359.2,182.0 L360.2,181.1 L361.2,180.2 L362.2,179.4 L363.2,178.6 L364.2,177.9 L365.2,177.2 L366.2,176.5 L367.2,175.9 L368.2,175.4 L369.2,174.9 L370.2,174.4 L371.2,174.0 L372.2,173.6 L373.2,173.2 L374.2,172.9 L375.2,172.6 L376.2,172.3 L377.2,172.1 L378.2,171.9 L379.2,171.6 L380.2,171.5 L381.2,171.4 L382.2,171.4 L383.2,171.4 L384.2,171.4 L385.2,171.4 L386.2,171.4 L387.2,171.4 L388.2,171.4 L389.2,171.4 L390.2,171.4 L391.2,171.4 L392.2,171.4 L393.2,171.4 L394.2,171.4 L395.2,171.4 L396.2,171.4 L397.2,171.4 L398.2,171.4 L399.2,171.4 L400.2,171.4 L401.2,171.4 L402.2,171.4 L403.2,171.4 L404.2,171.4 L405.2,171.4 L406.2,171.4 L407.2,171.4 L408.2,171.4 L409.2,171.4 L410.2,171.4 L411.2,171.4 L412.2,171.4 L413.2,171.4 L414.2,171.4 L415.2,171.4 L416.2,171.4 L417.2,171.4 L418.2,171.4 L419.2,171.4 L420.2,171.4 L421.2,171.4 L422.2,171.4 L423.2,171.4 L424.2,171.4 L425.2,171.4 L426.2,171.4 L427.2,171.4 L428.2,171.4 L429.2,171.4 L430.2,171.4 L431.2,171.4 L432.2,171.4 L433.2,171.4 L434.2,171.4 L435.2,171.4 L436.2,171.4 L437.2,171.4 L438.2,171.4 L439.2,171.4 L440.2,171.4 L441.2,171.4 L442.2,171.4 L443.2,171.4 L444.2,171.4 L445.2,171.4 L446.2,171.4 L447.2,171.4 L448.2,171.4 L449.2,171.4 L450.2,171.4 L451.2,171.4 L452.2,171.4 L453.2,171.4 L454.2,171.4 L455.2,171.4 L456.2,171.4 L457.2,171.4 L458.2,171.4 L459.2,171.5 L460.2,171.7 L461.2,172.0 L462.2,172.2 L463.2,172.5 L464.2,172.8 L465.2,173.1 L466.2,173.4 L467.2,173.7 L468.2,174.1 L469.2,174.4 L470.2,174.8 L471.2,175.2 L472.2,175.6 L473.2,176.1 L474.2,176.6 L475.2,177.1 L476.2,177.6 L477.2,178.1 L478.2,178.7 L479.2,179.3 L480.2,179.9 L481.2,180.6 L482.2,181.3 L483.2,182.0 L484.2,182.8 L485.2,183.6 L486.2,184.5 L487.2,185.3 L488.2,186.3 L489.2,187.2 L490.2,188.2 L491.2,189.3 L492.2,190.4 L493.2,191.5 L494.2,192.6 L495.2,193.8 L496.2,195.0 L497.2,196.2 L498.2,197.5 L499.2,198.7 L500.2,200.0 L501.2,201.3 L502.2,202.6 L503.2,204.0 L504.2,205.3 L505.2,206.6 L506.2,208.0 L507.2,209.3 L508.2,210.6 L509.2,211.9 L510.2,213.2 L511.2,214.5 L512.2,215.8 L513.2,217.0 L514.2,218.2 L515.2,219.4 L516.2,220.5 L517.2,221.6 L518.2,222.7 L519.2,223.7 L520.2,224.6 L521.2,225.5 L522.2,226.3 L523.2,227.0 L524.2,227.6 L525.2,228.2 L526.2,228.8 L527.2,229.3 L528.2,229.7 L529.2,230.1 L530.2,230.5 L531.2,230.9 L532.2,231.3 L533.2,231.7 L534.2,232.1 L535.2,232.6 L536.2,233.0 L537.2,233.5 L538.2,234.1 L538.4,234.2" stroke="#B56D12" stroke-width="1.4" fill="none"/>
<path d="M318.0,170.5 H537.6" stroke="#5E5E5E" stroke-width="1.2" fill="none"/>
<circle cx="318.4" cy="251.4" r="2.0" fill="#FF0000"/>
<circle cx="332.2" cy="237.0" r="2.0" fill="#FF0000"/>
<circle cx="350.2" cy="213.3" r="2.0" fill="#FF0000"/>
<circle cx="423.2" cy="173.6" r="2.0" fill="#FF0000"/>
<circle cx="507.5" cy="271.9" r="2.0" fill="#FF0000"/>
<path d="M139.6,305.5 H170.9" stroke="#FF4F4F" stroke-width="1.4"  fill="none"/>
<text x="174.0" y="308.0" font-size="7.0" fill="#262626" font-family='"Liberation Sans", sans-serif' textLength="37.0" lengthAdjust="spacingAndGlyphs">URC | T=100</text>
<path d="M216.3,305.5 H247.3" stroke="#45A11F" stroke-width="1.4"  fill="none"/>
<text x="251.0" y="308.0" font-size="7.0" fill="#262626" font-family='"Liberation Sans", sans-serif' textLength="33.4" lengthAdjust="spacingAndGlyphs">URC | T=50</text>
<path d="M291.5,305.5 H322.0" stroke="#FF6E6E" stroke-width="1.1" stroke-dasharray="3,1.5" fill="none"/>
<text x="325.3" y="308.0" font-size="7.0" fill="#262626" font-family='"Liberation Sans", sans-serif' textLength="35.7" lengthAdjust="spacingAndGlyphs">LRC | T=100</text>
<path d="M369.8,305.5 H401.9" stroke="#5FB03A" stroke-width="1.1" stroke-dasharray="3,1.5" fill="none"/>
<text x="404.7" y="308.0" font-size="7.0" fill="#262626" font-family='"Liberation Sans", sans-serif' textLength="32.1" lengthAdjust="spacingAndGlyphs">LRC | T=50</text>
<path d="M139.6,313.4 H170.9" stroke="#13A0AC" stroke-width="1.4"  fill="none"/>
<text x="174.0" y="315.8" font-size="7.0" fill="#262626" font-family='"Liberation Sans", sans-serif' textLength="33.4" lengthAdjust="spacingAndGlyphs">URC | T=20</text>
<path d="M216.5,313.4 H247.5" stroke="#B56D12" stroke-width="1.4"  fill="none"/>
<text x="250.4" y="315.8" font-size="7.0" fill="#262626" font-family='"Liberation Sans", sans-serif' textLength="33.4" lengthAdjust="spacingAndGlyphs">URC | T=10</text>
<path d="M291.5,313.4 H322.0" stroke="#2BB0C4" stroke-width="1.1" stroke-dasharray="3,1.5" fill="none"/>
<text x="325.3" y="315.8" font-size="7.0" fill="#262626" font-family='"Liberation Sans", sans-serif' textLength="32.1" lengthAdjust="spacingAndGlyphs">LRC | T=20</text>
<path d="M369.8,313.4 H401.9" stroke="#C98432" stroke-width="1.1" stroke-dasharray="3,1.5" fill="none"/>
<text x="404.7" y="315.8" font-size="7.0" fill="#262626" font-family='"Liberation Sans", sans-serif' textLength="32.1" lengthAdjust="spacingAndGlyphs">LRC | T=10</text>
<path d="M139.6,322.4 H170.9" stroke="#5E5E5E" stroke-width="1.4"  fill="none"/>
<text x="174.0" y="324.0" font-size="7.0" fill="#262626" font-family='"Liberation Sans", sans-serif' textLength="48.3" lengthAdjust="spacingAndGlyphs">Storage Capacity</text>
<path d="M228.2,322.5 H255.6" stroke="#6E6E6E" stroke-width="1.3" stroke-dasharray="8.7,4.6,1,4.6" fill="none"/>
<text x="262.8" y="324.0" font-size="7.0" fill="#262626" font-family='"Liberation Sans", sans-serif' textLength="38.4" lengthAdjust="spacingAndGlyphs">Dead Storage</text>
<circle cx="318.0" cy="321.9" r="2.0" fill="#FF0000"/>
<text x="325.3" y="324.0" font-size="7.0" fill="#262626" font-family='"Liberation Sans", sans-serif' textLength="79.4" lengthAdjust="spacingAndGlyphs">Current Management Policy</text>
</svg>
</body></html>
